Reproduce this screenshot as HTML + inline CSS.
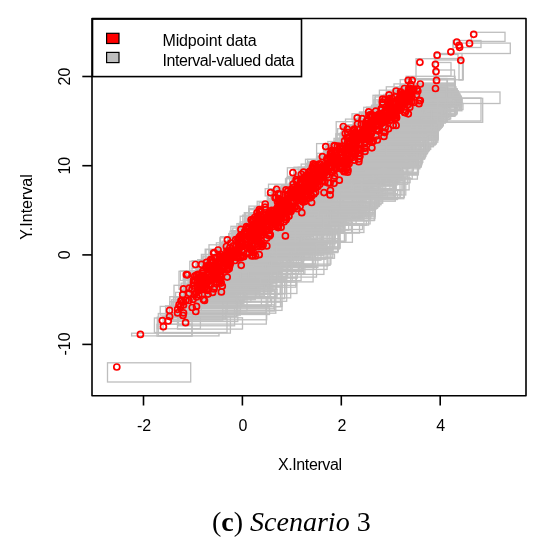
<!DOCTYPE html>
<html><head><meta charset="utf-8"><style>
html,body{margin:0;padding:0;background:#fff;}
body{width:550px;height:547px;overflow:hidden;}
svg{display:block;filter:blur(0.35px);}
.t{font-family:"Liberation Sans",Arial,sans-serif;font-size:16px;fill:#000;}
.cap{font-family:"Liberation Serif","Times New Roman",serif;font-size:28px;fill:#000;}
</style></head><body>
<svg width="550" height="547" viewBox="0 0 550 547">
<rect x="0" y="0" width="550" height="547" fill="#fff"/>
<g fill="none" stroke="#bebebe" stroke-width="1.3">
<rect x="245.3" y="224.7" width="94.6" height="23.2"/>
<rect x="401.7" y="85.0" width="33.4" height="5.3"/>
<rect x="351.1" y="137.9" width="74.4" height="19.1"/>
<rect x="396.2" y="88.3" width="34.1" height="11.5"/>
<rect x="321.3" y="153.8" width="23.8" height="12.7"/>
<rect x="345.5" y="135.6" width="28.4" height="8.5"/>
<rect x="245.1" y="231.4" width="65.0" height="21.5"/>
<rect x="303.4" y="168.1" width="57.6" height="19.6"/>
<rect x="271.8" y="212.8" width="60.9" height="7.6"/>
<rect x="335.9" y="166.0" width="36.3" height="8.4"/>
<rect x="290.6" y="185.5" width="103.7" height="14.3"/>
<rect x="306.3" y="182.7" width="59.9" height="19.9"/>
<rect x="185.4" y="291.4" width="58.6" height="9.3"/>
<rect x="278.5" y="189.0" width="48.3" height="6.1"/>
<rect x="302.5" y="197.8" width="77.1" height="8.2"/>
<rect x="356.3" y="128.2" width="81.7" height="5.8"/>
<rect x="313.4" y="167.7" width="79.7" height="11.0"/>
<rect x="224.9" y="246.6" width="53.1" height="5.8"/>
<rect x="321.9" y="166.1" width="27.4" height="14.6"/>
<rect x="380.1" y="116.6" width="66.3" height="5.4"/>
<rect x="295.8" y="186.2" width="97.7" height="9.7"/>
<rect x="371.6" y="117.7" width="71.1" height="8.2"/>
<rect x="299.1" y="173.3" width="90.7" height="9.6"/>
<rect x="199.4" y="285.4" width="81.1" height="21.3"/>
<rect x="399.2" y="95.5" width="61.4" height="10.7"/>
<rect x="192.0" y="268.4" width="76.3" height="15.5"/>
<rect x="245.8" y="229.6" width="25.9" height="5.8"/>
<rect x="329.7" y="161.6" width="46.6" height="15.2"/>
<rect x="363.5" y="128.5" width="71.8" height="16.2"/>
<rect x="227.8" y="238.5" width="61.9" height="19.0"/>
<rect x="372.3" y="113.1" width="65.7" height="21.3"/>
<rect x="339.8" y="133.3" width="35.3" height="23.5"/>
<rect x="269.9" y="208.8" width="51.1" height="12.7"/>
<rect x="283.5" y="203.7" width="41.1" height="9.4"/>
<rect x="382.6" y="125.4" width="53.0" height="19.0"/>
<rect x="283.8" y="186.2" width="44.6" height="9.7"/>
<rect x="377.2" y="118.2" width="57.9" height="20.6"/>
<rect x="232.4" y="245.7" width="80.0" height="19.3"/>
<rect x="373.0" y="95.3" width="87.2" height="9.5"/>
<rect x="338.2" y="159.2" width="64.3" height="19.3"/>
<rect x="190.3" y="291.2" width="85.5" height="22.0"/>
<rect x="203.9" y="270.1" width="74.5" height="9.9"/>
<rect x="346.2" y="142.0" width="74.6" height="13.7"/>
<rect x="370.0" y="118.5" width="72.8" height="7.3"/>
<rect x="265.0" y="214.1" width="48.3" height="7.7"/>
<rect x="241.4" y="232.7" width="39.6" height="12.6"/>
<rect x="294.0" y="190.3" width="81.9" height="18.9"/>
<rect x="371.2" y="109.7" width="66.2" height="11.9"/>
<rect x="406.1" y="76.3" width="48.9" height="7.8"/>
<rect x="342.4" y="127.7" width="29.0" height="8.4"/>
<rect x="294.6" y="193.6" width="102.8" height="5.9"/>
<rect x="208.1" y="282.2" width="88.8" height="11.3"/>
<rect x="327.3" y="162.2" width="34.4" height="6.8"/>
<rect x="274.6" y="204.0" width="84.8" height="7.8"/>
<rect x="205.1" y="259.8" width="59.2" height="20.0"/>
<rect x="228.7" y="243.6" width="68.2" height="6.3"/>
<rect x="384.9" y="101.6" width="56.5" height="9.4"/>
<rect x="288.6" y="191.4" width="86.4" height="19.0"/>
<rect x="396.8" y="97.2" width="59.6" height="17.5"/>
<rect x="379.9" y="97.0" width="34.8" height="17.7"/>
<rect x="303.0" y="186.7" width="40.0" height="12.8"/>
<rect x="304.7" y="181.5" width="87.6" height="7.0"/>
<rect x="310.2" y="178.5" width="94.2" height="19.0"/>
<rect x="355.9" y="132.7" width="52.9" height="19.8"/>
<rect x="225.4" y="242.8" width="36.8" height="6.9"/>
<rect x="281.9" y="208.8" width="93.1" height="7.4"/>
<rect x="275.1" y="205.5" width="60.9" height="12.3"/>
<rect x="331.8" y="157.8" width="89.0" height="9.2"/>
<rect x="202.0" y="272.3" width="23.0" height="12.7"/>
<rect x="325.6" y="146.0" width="64.3" height="6.3"/>
<rect x="201.6" y="263.7" width="45.3" height="16.0"/>
<rect x="301.2" y="164.1" width="74.8" height="15.4"/>
<rect x="234.8" y="231.3" width="65.9" height="6.8"/>
<rect x="400.5" y="91.3" width="34.1" height="13.4"/>
<rect x="214.6" y="254.3" width="68.4" height="11.4"/>
<rect x="335.8" y="167.1" width="47.6" height="6.8"/>
<rect x="228.7" y="233.7" width="38.1" height="16.3"/>
<rect x="238.2" y="230.9" width="95.0" height="19.2"/>
<rect x="334.3" y="154.7" width="37.7" height="4.4"/>
<rect x="201.4" y="290.4" width="42.5" height="13.5"/>
<rect x="320.5" y="163.1" width="87.2" height="21.1"/>
<rect x="297.8" y="186.9" width="64.8" height="7.2"/>
<rect x="192.3" y="274.3" width="80.5" height="17.3"/>
<rect x="393.3" y="90.8" width="50.7" height="20.3"/>
<rect x="335.2" y="139.2" width="58.8" height="16.8"/>
<rect x="198.6" y="282.5" width="83.4" height="24.1"/>
<rect x="306.7" y="175.0" width="64.0" height="7.4"/>
<rect x="266.3" y="207.3" width="47.9" height="6.2"/>
<rect x="210.6" y="265.4" width="51.6" height="4.5"/>
<rect x="314.6" y="179.4" width="47.9" height="18.2"/>
<rect x="338.2" y="159.8" width="39.3" height="6.2"/>
<rect x="337.2" y="145.9" width="74.4" height="5.1"/>
<rect x="282.2" y="187.7" width="29.0" height="8.5"/>
<rect x="279.5" y="198.0" width="81.4" height="19.7"/>
<rect x="190.6" y="271.5" width="96.3" height="5.4"/>
<rect x="234.9" y="240.8" width="35.1" height="9.1"/>
<rect x="312.9" y="174.4" width="87.1" height="7.8"/>
<rect x="226.7" y="251.6" width="33.0" height="8.2"/>
<rect x="212.6" y="255.9" width="33.9" height="7.1"/>
<rect x="289.8" y="189.4" width="90.5" height="7.9"/>
<rect x="361.1" y="120.9" width="66.9" height="14.8"/>
<rect x="401.3" y="91.7" width="57.2" height="15.0"/>
<rect x="193.2" y="283.1" width="33.0" height="15.8"/>
<rect x="343.7" y="142.6" width="52.1" height="17.6"/>
<rect x="354.9" y="123.9" width="31.0" height="11.5"/>
<rect x="302.1" y="172.6" width="47.8" height="6.2"/>
<rect x="239.6" y="224.7" width="76.6" height="19.9"/>
<rect x="291.8" y="191.2" width="26.4" height="4.8"/>
<rect x="344.6" y="133.6" width="75.9" height="20.4"/>
<rect x="285.5" y="178.8" width="87.1" height="16.1"/>
<rect x="254.4" y="216.2" width="68.4" height="10.0"/>
<rect x="375.3" y="118.8" width="61.2" height="13.1"/>
<rect x="380.3" y="99.9" width="28.7" height="8.0"/>
<rect x="295.9" y="173.0" width="71.6" height="5.4"/>
<rect x="327.7" y="159.5" width="61.6" height="10.8"/>
<rect x="221.3" y="274.3" width="64.7" height="19.5"/>
<rect x="233.3" y="246.9" width="34.6" height="9.2"/>
<rect x="398.0" y="87.4" width="35.2" height="6.2"/>
<rect x="193.2" y="278.3" width="29.0" height="10.9"/>
<rect x="327.4" y="162.1" width="74.1" height="7.9"/>
<rect x="242.7" y="244.8" width="64.7" height="9.7"/>
<rect x="303.1" y="194.9" width="79.6" height="8.3"/>
<rect x="232.8" y="228.0" width="35.9" height="9.3"/>
<rect x="202.2" y="263.9" width="96.8" height="6.1"/>
<rect x="371.7" y="113.2" width="36.4" height="9.7"/>
<rect x="322.7" y="160.6" width="32.9" height="6.0"/>
<rect x="377.6" y="116.1" width="24.6" height="6.4"/>
<rect x="320.3" y="161.6" width="97.1" height="17.5"/>
<rect x="242.2" y="230.3" width="38.8" height="20.8"/>
<rect x="210.7" y="276.5" width="49.0" height="20.1"/>
<rect x="275.0" y="205.6" width="59.3" height="14.6"/>
<rect x="203.0" y="256.8" width="70.0" height="18.1"/>
<rect x="269.1" y="208.8" width="59.1" height="10.9"/>
<rect x="193.4" y="277.6" width="27.0" height="3.8"/>
<rect x="202.9" y="264.2" width="73.8" height="19.0"/>
<rect x="247.7" y="247.4" width="82.4" height="17.9"/>
<rect x="196.3" y="278.6" width="66.0" height="8.1"/>
<rect x="256.3" y="206.5" width="91.7" height="6.4"/>
<rect x="319.5" y="165.8" width="57.6" height="6.6"/>
<rect x="388.2" y="107.2" width="52.0" height="22.0"/>
<rect x="224.2" y="246.5" width="45.7" height="14.1"/>
<rect x="370.5" y="124.5" width="67.5" height="9.2"/>
<rect x="288.2" y="184.7" width="78.4" height="8.8"/>
<rect x="216.2" y="263.4" width="45.0" height="12.6"/>
<rect x="343.7" y="131.8" width="85.0" height="19.4"/>
<rect x="386.3" y="96.4" width="74.8" height="5.5"/>
<rect x="280.3" y="208.7" width="59.0" height="11.6"/>
<rect x="316.9" y="153.3" width="59.9" height="6.6"/>
<rect x="254.3" y="242.8" width="75.8" height="6.1"/>
<rect x="219.8" y="251.2" width="101.2" height="9.0"/>
<rect x="374.9" y="96.9" width="82.0" height="17.6"/>
<rect x="331.1" y="142.1" width="64.3" height="21.5"/>
<rect x="253.9" y="214.7" width="58.9" height="6.2"/>
<rect x="192.1" y="260.7" width="90.8" height="7.7"/>
<rect x="270.8" y="222.2" width="31.7" height="6.3"/>
<rect x="321.2" y="186.1" width="58.0" height="5.3"/>
<rect x="306.9" y="163.3" width="61.7" height="16.0"/>
<rect x="242.3" y="234.8" width="79.1" height="13.9"/>
<rect x="173.1" y="312.8" width="93.6" height="7.0"/>
<rect x="255.6" y="213.8" width="94.8" height="6.8"/>
<rect x="203.3" y="276.5" width="41.3" height="20.4"/>
<rect x="326.5" y="165.6" width="30.1" height="7.7"/>
<rect x="259.1" y="202.3" width="84.7" height="7.6"/>
<rect x="305.5" y="180.7" width="29.0" height="8.1"/>
<rect x="364.6" y="135.3" width="62.1" height="19.3"/>
<rect x="276.7" y="205.3" width="92.5" height="9.5"/>
<rect x="356.2" y="136.0" width="77.4" height="10.4"/>
<rect x="303.7" y="190.2" width="71.3" height="22.2"/>
<rect x="384.4" y="115.6" width="31.4" height="18.2"/>
<rect x="235.8" y="240.1" width="91.8" height="4.5"/>
<rect x="248.9" y="206.1" width="45.5" height="12.7"/>
<rect x="290.0" y="186.4" width="80.1" height="6.6"/>
<rect x="286.0" y="189.2" width="41.3" height="12.9"/>
<rect x="299.7" y="179.5" width="80.6" height="6.0"/>
<rect x="273.2" y="209.0" width="22.3" height="18.8"/>
<rect x="345.6" y="132.8" width="32.6" height="13.6"/>
<rect x="257.0" y="218.1" width="32.6" height="5.0"/>
<rect x="203.0" y="254.7" width="77.0" height="15.3"/>
<rect x="326.8" y="178.7" width="51.8" height="24.2"/>
<rect x="353.0" y="128.5" width="83.2" height="15.4"/>
<rect x="350.9" y="130.3" width="32.1" height="11.4"/>
<rect x="239.2" y="248.6" width="47.5" height="16.8"/>
<rect x="243.3" y="231.8" width="91.4" height="15.5"/>
<rect x="379.0" y="114.7" width="59.9" height="16.1"/>
<rect x="194.0" y="294.8" width="29.1" height="11.4"/>
<rect x="212.9" y="254.7" width="90.7" height="19.7"/>
<rect x="318.6" y="164.8" width="83.7" height="13.6"/>
<rect x="237.0" y="242.4" width="57.9" height="13.9"/>
<rect x="296.9" y="189.8" width="103.3" height="8.4"/>
<rect x="301.5" y="170.3" width="101.8" height="6.3"/>
<rect x="269.0" y="198.7" width="91.6" height="14.2"/>
<rect x="361.4" y="113.3" width="75.1" height="7.0"/>
<rect x="227.0" y="254.5" width="74.4" height="16.3"/>
<rect x="351.3" y="132.9" width="39.8" height="13.4"/>
<rect x="272.6" y="198.1" width="45.8" height="21.2"/>
<rect x="384.6" y="110.6" width="45.9" height="11.4"/>
<rect x="216.9" y="265.6" width="29.4" height="4.9"/>
<rect x="232.7" y="232.6" width="39.3" height="4.7"/>
<rect x="257.2" y="201.3" width="64.3" height="6.7"/>
<rect x="229.0" y="233.5" width="37.6" height="8.3"/>
<rect x="391.7" y="105.5" width="47.6" height="5.6"/>
<rect x="266.7" y="211.4" width="74.7" height="13.2"/>
<rect x="235.7" y="234.6" width="30.8" height="10.8"/>
<rect x="340.7" y="150.3" width="40.2" height="22.0"/>
<rect x="355.3" y="126.4" width="26.6" height="12.5"/>
<rect x="302.5" y="176.0" width="80.2" height="5.9"/>
<rect x="245.7" y="220.1" width="37.7" height="15.8"/>
<rect x="395.1" y="89.7" width="26.1" height="7.4"/>
<rect x="394.9" y="97.9" width="40.1" height="16.4"/>
<rect x="276.4" y="208.1" width="86.7" height="10.1"/>
<rect x="227.5" y="244.9" width="41.3" height="5.3"/>
<rect x="249.0" y="208.6" width="51.7" height="10.3"/>
<rect x="312.7" y="177.2" width="91.1" height="21.5"/>
<rect x="289.8" y="201.8" width="75.8" height="14.9"/>
<rect x="191.8" y="272.9" width="29.7" height="7.4"/>
<rect x="255.9" y="220.6" width="87.5" height="12.7"/>
<rect x="311.6" y="168.6" width="85.4" height="6.8"/>
<rect x="363.0" y="121.1" width="51.6" height="15.0"/>
<rect x="228.8" y="245.4" width="89.1" height="22.0"/>
<rect x="295.1" y="194.7" width="68.0" height="12.2"/>
<rect x="276.5" y="207.0" width="98.5" height="11.2"/>
<rect x="249.3" y="209.7" width="72.6" height="16.7"/>
<rect x="368.4" y="118.4" width="44.5" height="4.2"/>
<rect x="281.0" y="193.5" width="71.3" height="12.7"/>
<rect x="233.3" y="231.2" width="29.2" height="9.4"/>
<rect x="265.2" y="188.7" width="85.4" height="7.2"/>
<rect x="218.4" y="259.5" width="68.2" height="18.6"/>
<rect x="319.3" y="167.9" width="29.2" height="13.9"/>
<rect x="317.9" y="170.9" width="28.5" height="16.8"/>
<rect x="351.8" y="129.9" width="86.2" height="5.5"/>
<rect x="233.2" y="254.9" width="22.3" height="5.8"/>
<rect x="253.5" y="242.5" width="84.8" height="4.3"/>
<rect x="220.1" y="266.6" width="96.4" height="10.5"/>
<rect x="255.0" y="227.1" width="41.0" height="14.2"/>
<rect x="358.5" y="145.6" width="52.5" height="4.5"/>
<rect x="308.2" y="176.3" width="62.0" height="12.5"/>
<rect x="388.1" y="107.9" width="54.9" height="17.7"/>
<rect x="272.5" y="193.8" width="67.6" height="9.2"/>
<rect x="248.9" y="218.0" width="66.2" height="16.7"/>
<rect x="218.4" y="262.4" width="33.1" height="22.6"/>
<rect x="293.7" y="190.6" width="63.8" height="7.5"/>
<rect x="206.4" y="269.0" width="62.9" height="6.7"/>
<rect x="338.5" y="145.6" width="85.0" height="5.7"/>
<rect x="254.3" y="206.9" width="84.8" height="7.4"/>
<rect x="289.1" y="183.1" width="75.7" height="13.3"/>
<rect x="256.7" y="226.4" width="87.7" height="15.5"/>
<rect x="267.3" y="195.0" width="64.3" height="6.0"/>
<rect x="367.1" y="122.6" width="74.4" height="4.9"/>
<rect x="274.1" y="196.6" width="88.7" height="12.3"/>
<rect x="378.5" y="108.8" width="62.0" height="19.9"/>
<rect x="206.2" y="258.2" width="53.6" height="11.6"/>
<rect x="211.0" y="272.7" width="27.4" height="12.4"/>
<rect x="228.8" y="246.7" width="30.8" height="9.3"/>
<rect x="246.5" y="223.9" width="28.4" height="16.2"/>
<rect x="402.1" y="110.0" width="37.6" height="19.8"/>
<rect x="216.6" y="248.7" width="36.0" height="10.9"/>
<rect x="305.5" y="177.7" width="90.8" height="11.8"/>
<rect x="315.6" y="172.6" width="79.6" height="20.1"/>
<rect x="225.0" y="248.1" width="79.3" height="12.4"/>
<rect x="341.6" y="143.4" width="46.5" height="7.5"/>
<rect x="244.9" y="217.9" width="32.3" height="8.1"/>
<rect x="238.7" y="231.0" width="84.0" height="19.8"/>
<rect x="238.2" y="229.8" width="33.1" height="22.0"/>
<rect x="323.9" y="150.7" width="36.3" height="8.3"/>
<rect x="191.7" y="283.7" width="33.9" height="11.7"/>
<rect x="365.2" y="112.2" width="68.3" height="21.2"/>
<rect x="361.0" y="135.2" width="39.3" height="19.4"/>
<rect x="307.1" y="185.0" width="88.2" height="16.2"/>
<rect x="338.0" y="144.1" width="74.9" height="7.9"/>
<rect x="334.3" y="145.7" width="91.6" height="10.6"/>
<rect x="265.3" y="213.7" width="55.0" height="14.5"/>
<rect x="202.6" y="263.5" width="60.6" height="19.9"/>
<rect x="271.4" y="203.0" width="32.5" height="6.9"/>
<rect x="214.3" y="272.4" width="65.9" height="21.3"/>
<rect x="391.9" y="98.0" width="33.0" height="5.7"/>
<rect x="274.4" y="212.9" width="88.6" height="6.2"/>
<rect x="362.5" y="129.4" width="60.8" height="22.5"/>
<rect x="314.9" y="163.4" width="79.1" height="13.7"/>
<rect x="267.3" y="205.6" width="69.8" height="7.2"/>
<rect x="337.6" y="155.4" width="63.0" height="14.1"/>
<rect x="265.3" y="208.1" width="47.0" height="12.7"/>
<rect x="269.0" y="219.3" width="28.0" height="12.0"/>
<rect x="316.6" y="143.6" width="69.8" height="20.5"/>
<rect x="366.2" y="117.0" width="71.7" height="11.1"/>
<rect x="294.0" y="167.2" width="90.0" height="24.1"/>
<rect x="294.2" y="187.8" width="28.1" height="15.7"/>
<rect x="285.3" y="193.3" width="52.2" height="8.2"/>
<rect x="274.0" y="212.4" width="72.4" height="10.8"/>
<rect x="383.3" y="98.2" width="72.2" height="17.2"/>
<rect x="388.7" y="114.1" width="40.8" height="20.1"/>
<rect x="350.5" y="147.9" width="39.8" height="8.3"/>
<rect x="196.5" y="272.9" width="51.7" height="15.2"/>
<rect x="268.1" y="221.2" width="29.5" height="21.3"/>
<rect x="336.0" y="158.6" width="26.5" height="6.7"/>
<rect x="307.9" y="165.1" width="41.2" height="20.3"/>
<rect x="245.8" y="229.8" width="71.8" height="12.6"/>
<rect x="326.3" y="156.4" width="57.4" height="20.1"/>
<rect x="373.1" y="117.2" width="41.1" height="12.1"/>
<rect x="248.5" y="223.6" width="45.5" height="17.3"/>
<rect x="288.3" y="202.2" width="35.5" height="23.0"/>
<rect x="242.3" y="231.6" width="67.4" height="21.8"/>
<rect x="265.8" y="214.4" width="98.1" height="18.1"/>
<rect x="216.0" y="253.8" width="61.5" height="18.0"/>
<rect x="359.2" y="121.2" width="65.4" height="7.2"/>
<rect x="337.6" y="128.7" width="85.0" height="6.3"/>
<rect x="228.5" y="249.9" width="99.4" height="16.0"/>
<rect x="350.7" y="132.3" width="43.5" height="19.4"/>
<rect x="204.0" y="272.2" width="64.6" height="9.4"/>
<rect x="278.2" y="197.7" width="96.8" height="12.4"/>
<rect x="364.3" y="117.8" width="79.0" height="7.4"/>
<rect x="239.5" y="223.4" width="95.5" height="20.4"/>
<rect x="321.0" y="163.9" width="40.4" height="17.9"/>
<rect x="293.9" y="169.2" width="41.4" height="13.3"/>
<rect x="270.5" y="196.5" width="73.0" height="20.2"/>
<rect x="275.8" y="202.0" width="53.1" height="11.3"/>
<rect x="405.3" y="89.0" width="51.8" height="22.6"/>
<rect x="285.6" y="189.4" width="36.9" height="14.4"/>
<rect x="219.8" y="237.8" width="82.8" height="13.5"/>
<rect x="184.8" y="277.5" width="68.8" height="6.9"/>
<rect x="298.2" y="167.2" width="36.9" height="5.3"/>
<rect x="244.1" y="240.8" width="81.9" height="18.5"/>
<rect x="239.9" y="234.2" width="73.6" height="17.6"/>
<rect x="271.9" y="206.4" width="97.0" height="14.5"/>
<rect x="202.2" y="275.1" width="23.3" height="6.1"/>
<rect x="234.8" y="250.5" width="51.4" height="8.6"/>
<rect x="209.1" y="250.6" width="47.9" height="5.9"/>
<rect x="279.7" y="201.5" width="58.3" height="5.8"/>
<rect x="294.8" y="173.2" width="46.7" height="9.7"/>
<rect x="248.5" y="214.3" width="46.1" height="8.0"/>
<rect x="352.7" y="128.1" width="25.9" height="22.7"/>
<rect x="356.7" y="122.5" width="46.2" height="20.9"/>
<rect x="258.1" y="223.8" width="101.4" height="9.3"/>
<rect x="311.6" y="170.2" width="70.7" height="22.5"/>
<rect x="325.5" y="146.6" width="79.8" height="14.4"/>
<rect x="391.3" y="95.2" width="45.9" height="14.4"/>
<rect x="398.6" y="90.7" width="59.5" height="7.6"/>
<rect x="347.8" y="148.3" width="28.7" height="21.0"/>
<rect x="221.5" y="266.2" width="91.6" height="15.7"/>
<rect x="318.0" y="189.2" width="60.8" height="17.4"/>
<rect x="201.4" y="254.4" width="101.0" height="17.1"/>
<rect x="278.5" y="195.8" width="98.3" height="12.7"/>
<rect x="351.5" y="151.2" width="58.4" height="17.3"/>
<rect x="364.7" y="125.0" width="73.3" height="9.0"/>
<rect x="260.3" y="217.3" width="52.3" height="19.2"/>
<rect x="244.2" y="228.7" width="50.1" height="11.0"/>
<rect x="344.9" y="140.4" width="51.9" height="15.3"/>
<rect x="383.6" y="121.7" width="40.7" height="22.2"/>
<rect x="366.1" y="111.0" width="35.6" height="12.8"/>
<rect x="333.4" y="169.2" width="53.2" height="8.4"/>
<rect x="291.1" y="186.9" width="68.0" height="14.5"/>
<rect x="256.0" y="240.3" width="81.7" height="12.3"/>
<rect x="348.4" y="131.2" width="69.1" height="4.9"/>
<rect x="326.2" y="154.5" width="50.4" height="8.7"/>
<rect x="335.9" y="133.8" width="79.5" height="17.4"/>
<rect x="293.7" y="183.3" width="49.3" height="21.5"/>
<rect x="402.7" y="95.6" width="57.9" height="12.3"/>
<rect x="250.5" y="229.4" width="44.9" height="11.6"/>
<rect x="398.5" y="97.2" width="33.5" height="16.7"/>
<rect x="363.9" y="120.6" width="74.1" height="14.8"/>
<rect x="305.8" y="181.7" width="27.8" height="10.3"/>
<rect x="219.5" y="258.8" width="67.2" height="23.0"/>
<rect x="253.7" y="251.2" width="73.4" height="18.2"/>
<rect x="395.2" y="92.7" width="29.8" height="7.8"/>
<rect x="184.6" y="294.8" width="55.8" height="15.8"/>
<rect x="261.5" y="231.4" width="24.5" height="8.7"/>
<rect x="261.0" y="232.1" width="45.7" height="17.8"/>
<rect x="358.5" y="128.8" width="57.1" height="21.2"/>
<rect x="313.5" y="168.1" width="70.0" height="6.3"/>
<rect x="239.4" y="239.7" width="76.2" height="11.4"/>
<rect x="384.1" y="114.0" width="27.1" height="6.6"/>
<rect x="350.6" y="130.2" width="30.2" height="13.2"/>
<rect x="242.8" y="229.9" width="45.0" height="17.0"/>
<rect x="357.0" y="140.1" width="25.1" height="18.5"/>
<rect x="390.4" y="113.0" width="43.8" height="3.9"/>
<rect x="401.5" y="96.5" width="53.1" height="19.6"/>
<rect x="396.8" y="87.6" width="51.1" height="18.5"/>
<rect x="304.8" y="183.6" width="39.1" height="6.2"/>
<rect x="211.5" y="263.7" width="39.3" height="11.7"/>
<rect x="295.7" y="172.9" width="78.1" height="20.0"/>
<rect x="216.9" y="258.0" width="49.9" height="6.0"/>
<rect x="301.4" y="173.2" width="64.8" height="5.9"/>
<rect x="202.5" y="264.3" width="96.2" height="5.5"/>
<rect x="340.4" y="144.0" width="51.9" height="17.7"/>
<rect x="197.7" y="259.8" width="76.2" height="9.7"/>
<rect x="245.4" y="229.3" width="89.6" height="11.9"/>
<rect x="373.7" y="120.3" width="68.0" height="7.0"/>
<rect x="203.9" y="263.9" width="94.4" height="5.9"/>
<rect x="227.7" y="240.4" width="83.9" height="14.0"/>
<rect x="265.6" y="209.0" width="61.2" height="5.5"/>
<rect x="263.1" y="225.8" width="56.8" height="21.8"/>
<rect x="360.1" y="143.3" width="33.0" height="6.5"/>
<rect x="201.8" y="262.8" width="59.6" height="21.8"/>
<rect x="274.9" y="184.9" width="36.2" height="23.5"/>
<rect x="280.9" y="208.8" width="46.9" height="20.8"/>
<rect x="358.0" y="116.5" width="46.2" height="12.1"/>
<rect x="383.3" y="98.6" width="73.8" height="6.0"/>
<rect x="193.6" y="286.3" width="35.8" height="14.6"/>
<rect x="406.2" y="88.7" width="50.8" height="15.9"/>
<rect x="329.5" y="144.3" width="25.8" height="21.4"/>
<rect x="385.2" y="112.9" width="44.8" height="15.4"/>
<rect x="400.2" y="79.6" width="47.2" height="7.6"/>
<rect x="282.1" y="211.9" width="88.7" height="6.6"/>
<rect x="296.4" y="174.0" width="27.3" height="21.2"/>
<rect x="286.0" y="193.1" width="28.5" height="19.2"/>
<rect x="406.1" y="88.0" width="47.8" height="12.0"/>
<rect x="296.5" y="198.4" width="55.7" height="5.5"/>
<rect x="334.9" y="143.9" width="39.9" height="9.7"/>
<rect x="277.0" y="189.7" width="85.8" height="22.7"/>
<rect x="345.4" y="149.3" width="35.5" height="12.0"/>
<rect x="340.6" y="160.6" width="77.9" height="11.7"/>
<rect x="346.8" y="141.0" width="67.9" height="5.2"/>
<rect x="309.8" y="173.5" width="52.6" height="4.6"/>
<rect x="275.5" y="214.9" width="62.7" height="15.3"/>
<rect x="257.4" y="222.1" width="69.9" height="14.9"/>
<rect x="300.7" y="182.1" width="46.1" height="6.0"/>
<rect x="305.5" y="159.3" width="27.3" height="10.9"/>
<rect x="320.3" y="154.8" width="55.9" height="9.6"/>
<rect x="193.9" y="281.8" width="65.3" height="8.8"/>
<rect x="205.5" y="265.8" width="40.3" height="12.1"/>
<rect x="282.8" y="186.1" width="52.4" height="11.5"/>
<rect x="344.4" y="130.6" width="33.9" height="23.1"/>
<rect x="214.0" y="270.1" width="81.9" height="17.1"/>
<rect x="353.1" y="121.4" width="42.3" height="12.0"/>
<rect x="390.0" y="93.7" width="69.7" height="8.3"/>
<rect x="274.7" y="219.1" width="42.4" height="5.5"/>
<rect x="304.6" y="179.5" width="50.2" height="14.9"/>
<rect x="217.2" y="252.5" width="26.6" height="7.3"/>
<rect x="356.6" y="127.8" width="61.6" height="14.0"/>
<rect x="315.9" y="173.0" width="51.1" height="22.2"/>
<rect x="387.1" y="94.2" width="72.9" height="15.1"/>
<rect x="301.9" y="192.4" width="73.1" height="22.4"/>
<rect x="231.7" y="232.3" width="56.5" height="22.5"/>
<rect x="213.4" y="261.1" width="34.4" height="5.3"/>
<rect x="191.5" y="288.4" width="66.9" height="3.3"/>
<rect x="381.2" y="104.2" width="33.1" height="12.8"/>
<rect x="388.2" y="114.4" width="49.8" height="19.0"/>
<rect x="295.9" y="184.3" width="48.5" height="5.7"/>
<rect x="231.0" y="244.4" width="59.5" height="20.0"/>
<rect x="247.6" y="242.0" width="68.0" height="22.0"/>
<rect x="375.7" y="107.9" width="45.7" height="6.8"/>
<rect x="257.5" y="216.7" width="86.8" height="5.3"/>
<rect x="284.2" y="206.6" width="84.4" height="18.5"/>
<rect x="270.4" y="198.2" width="64.0" height="17.7"/>
<rect x="385.2" y="108.5" width="62.2" height="5.4"/>
<rect x="313.1" y="177.7" width="92.7" height="17.3"/>
<rect x="377.2" y="110.2" width="69.1" height="11.9"/>
<rect x="292.9" y="194.1" width="79.9" height="21.0"/>
<rect x="234.3" y="240.5" width="89.5" height="14.8"/>
<rect x="274.5" y="211.5" width="92.4" height="6.9"/>
<rect x="337.2" y="134.1" width="42.9" height="15.4"/>
<rect x="240.2" y="221.9" width="82.3" height="6.3"/>
<rect x="335.3" y="168.6" width="33.0" height="4.8"/>
<rect x="267.6" y="212.2" width="75.6" height="19.4"/>
<rect x="395.8" y="106.6" width="53.3" height="5.0"/>
<rect x="371.7" y="105.2" width="64.1" height="13.5"/>
<rect x="396.1" y="96.4" width="33.9" height="20.8"/>
<rect x="390.0" y="103.7" width="51.9" height="23.3"/>
<rect x="353.5" y="156.6" width="59.9" height="14.5"/>
<rect x="237.5" y="248.8" width="77.2" height="8.0"/>
<rect x="388.1" y="98.5" width="23.5" height="12.1"/>
<rect x="209.9" y="274.3" width="57.6" height="6.5"/>
<rect x="377.4" y="116.6" width="63.8" height="11.2"/>
<rect x="327.6" y="159.5" width="75.7" height="5.6"/>
<rect x="373.3" y="129.3" width="64.7" height="7.6"/>
<rect x="228.0" y="249.5" width="70.7" height="24.3"/>
<rect x="244.1" y="230.4" width="28.0" height="7.7"/>
<rect x="206.0" y="249.6" width="78.8" height="8.9"/>
<rect x="187.1" y="289.5" width="90.0" height="7.7"/>
<rect x="242.8" y="215.1" width="55.3" height="11.8"/>
<rect x="286.1" y="205.2" width="53.8" height="4.7"/>
<rect x="240.2" y="216.2" width="87.9" height="10.9"/>
<rect x="215.1" y="252.0" width="35.4" height="9.6"/>
<rect x="205.9" y="279.7" width="78.7" height="19.0"/>
<rect x="373.6" y="113.5" width="28.5" height="6.8"/>
<rect x="195.4" y="273.5" width="63.7" height="19.7"/>
<rect x="350.5" y="141.8" width="41.8" height="4.9"/>
<rect x="248.9" y="208.5" width="66.3" height="8.8"/>
<rect x="320.6" y="168.3" width="76.3" height="15.7"/>
<rect x="392.7" y="98.4" width="67.5" height="6.4"/>
<rect x="259.7" y="222.7" width="71.6" height="10.1"/>
<rect x="319.7" y="155.0" width="23.1" height="13.7"/>
<rect x="367.3" y="118.5" width="70.7" height="15.5"/>
<rect x="230.9" y="226.3" width="94.3" height="4.4"/>
<rect x="322.7" y="180.4" width="80.3" height="10.1"/>
<rect x="282.9" y="191.4" width="33.9" height="13.8"/>
<rect x="341.7" y="126.2" width="70.6" height="6.7"/>
<rect x="358.0" y="123.1" width="68.3" height="10.0"/>
<rect x="323.7" y="143.7" width="35.0" height="21.5"/>
<rect x="244.3" y="212.7" width="67.1" height="24.3"/>
<rect x="344.4" y="134.9" width="45.4" height="22.6"/>
<rect x="266.2" y="206.4" width="39.8" height="6.6"/>
<rect x="259.1" y="208.2" width="85.7" height="19.7"/>
<rect x="302.7" y="190.4" width="84.6" height="7.1"/>
<rect x="195.3" y="271.8" width="27.9" height="5.3"/>
<rect x="357.6" y="136.9" width="70.8" height="14.6"/>
<rect x="321.9" y="154.0" width="33.6" height="21.2"/>
<rect x="342.4" y="143.6" width="88.3" height="5.8"/>
<rect x="354.0" y="115.5" width="69.9" height="10.0"/>
<rect x="376.8" y="108.0" width="46.1" height="7.3"/>
<rect x="371.4" y="106.1" width="73.9" height="16.7"/>
<rect x="247.5" y="241.6" width="48.4" height="19.3"/>
<rect x="305.9" y="171.0" width="61.4" height="18.5"/>
<rect x="300.4" y="171.1" width="82.2" height="7.9"/>
<rect x="342.7" y="148.9" width="82.3" height="9.2"/>
<rect x="365.3" y="138.7" width="28.2" height="3.5"/>
<rect x="266.1" y="210.0" width="52.6" height="5.7"/>
<rect x="324.7" y="151.3" width="72.4" height="17.2"/>
<rect x="316.6" y="167.2" width="35.3" height="7.9"/>
<rect x="306.5" y="179.8" width="39.9" height="14.5"/>
<rect x="379.0" y="99.7" width="44.6" height="13.1"/>
<rect x="308.8" y="162.5" width="87.8" height="5.0"/>
<rect x="213.1" y="289.0" width="50.4" height="5.8"/>
<rect x="238.2" y="230.4" width="54.6" height="17.9"/>
<rect x="194.7" y="283.5" width="75.8" height="18.2"/>
<rect x="248.0" y="222.3" width="100.7" height="7.8"/>
<rect x="216.4" y="242.8" width="86.8" height="14.7"/>
<rect x="306.8" y="179.2" width="83.1" height="10.8"/>
<rect x="350.1" y="130.1" width="65.5" height="8.5"/>
<rect x="246.9" y="225.3" width="92.1" height="17.6"/>
<rect x="304.4" y="186.8" width="73.1" height="9.6"/>
<rect x="245.8" y="232.9" width="92.1" height="19.1"/>
<rect x="190.2" y="284.5" width="80.9" height="8.6"/>
<rect x="268.5" y="184.2" width="93.6" height="24.1"/>
<rect x="330.4" y="155.3" width="66.0" height="21.1"/>
<rect x="309.8" y="167.6" width="28.7" height="22.6"/>
<rect x="310.7" y="164.4" width="45.1" height="10.4"/>
<rect x="274.4" y="195.6" width="100.6" height="17.7"/>
<rect x="210.4" y="267.1" width="54.4" height="9.5"/>
<rect x="394.7" y="89.4" width="62.6" height="23.9"/>
<rect x="217.5" y="251.1" width="56.6" height="22.5"/>
<rect x="209.0" y="244.8" width="33.7" height="11.9"/>
<rect x="341.8" y="135.5" width="46.2" height="8.3"/>
<rect x="356.2" y="124.4" width="77.6" height="16.3"/>
<rect x="290.1" y="186.7" width="78.8" height="5.8"/>
<rect x="210.7" y="281.3" width="44.6" height="18.4"/>
<rect x="323.7" y="190.3" width="53.9" height="17.4"/>
<rect x="286.3" y="178.3" width="84.1" height="20.7"/>
<rect x="355.9" y="144.8" width="64.9" height="21.9"/>
<rect x="262.1" y="224.0" width="100.4" height="5.5"/>
<rect x="295.1" y="196.2" width="79.6" height="24.0"/>
<rect x="345.2" y="149.2" width="47.3" height="13.4"/>
<rect x="336.1" y="147.2" width="64.7" height="18.0"/>
<rect x="333.4" y="156.3" width="84.6" height="18.8"/>
<rect x="232.4" y="254.8" width="55.2" height="21.6"/>
<rect x="308.1" y="161.8" width="28.6" height="21.2"/>
<rect x="370.2" y="115.1" width="67.8" height="18.3"/>
<rect x="399.2" y="97.8" width="55.6" height="18.1"/>
<rect x="208.4" y="280.0" width="60.9" height="6.9"/>
<rect x="344.5" y="148.5" width="48.2" height="11.4"/>
<rect x="232.1" y="236.6" width="72.1" height="6.1"/>
<rect x="238.9" y="237.2" width="28.9" height="13.5"/>
<rect x="302.6" y="177.6" width="58.8" height="18.4"/>
<rect x="387.4" y="99.0" width="45.0" height="22.9"/>
<rect x="248.3" y="227.5" width="38.9" height="6.1"/>
<rect x="213.8" y="259.2" width="100.0" height="10.3"/>
<rect x="252.5" y="229.2" width="45.4" height="5.1"/>
<rect x="252.2" y="230.6" width="51.9" height="15.8"/>
<rect x="380.5" y="111.7" width="57.5" height="20.9"/>
<rect x="331.7" y="156.6" width="65.8" height="16.8"/>
<rect x="249.6" y="215.9" width="77.3" height="17.7"/>
<rect x="277.8" y="203.7" width="72.7" height="5.0"/>
<rect x="310.2" y="178.9" width="49.2" height="17.2"/>
<rect x="347.3" y="133.7" width="33.1" height="16.4"/>
<rect x="189.2" y="282.0" width="49.0" height="18.7"/>
<rect x="371.7" y="112.7" width="69.1" height="15.8"/>
<rect x="342.1" y="145.4" width="81.6" height="13.0"/>
<rect x="194.0" y="272.3" width="88.0" height="21.9"/>
<rect x="340.3" y="164.4" width="30.2" height="20.0"/>
<rect x="263.5" y="207.1" width="26.1" height="6.9"/>
<rect x="202.9" y="278.6" width="68.0" height="10.3"/>
<rect x="337.6" y="144.4" width="74.0" height="18.1"/>
<rect x="327.4" y="163.9" width="54.0" height="11.2"/>
<rect x="317.8" y="156.2" width="40.0" height="15.2"/>
<rect x="255.7" y="224.9" width="96.0" height="7.9"/>
<rect x="181.0" y="286.9" width="86.8" height="19.4"/>
<rect x="194.3" y="280.7" width="31.4" height="12.4"/>
<rect x="219.4" y="254.7" width="62.8" height="21.3"/>
<rect x="246.4" y="252.5" width="35.9" height="18.4"/>
<rect x="272.2" y="224.1" width="67.7" height="18.4"/>
<rect x="255.5" y="212.4" width="48.7" height="7.5"/>
<rect x="384.8" y="103.7" width="58.1" height="22.0"/>
<rect x="295.0" y="199.1" width="82.3" height="9.0"/>
<rect x="375.6" y="122.8" width="62.4" height="11.8"/>
<rect x="210.0" y="273.5" width="87.3" height="4.6"/>
<rect x="357.7" y="131.1" width="32.2" height="8.5"/>
<rect x="352.8" y="132.2" width="85.2" height="7.2"/>
<rect x="325.3" y="164.1" width="42.3" height="11.8"/>
<rect x="283.2" y="195.0" width="70.8" height="21.4"/>
<rect x="382.9" y="113.2" width="58.6" height="14.2"/>
<rect x="336.4" y="152.2" width="62.7" height="19.0"/>
<rect x="284.8" y="193.3" width="80.2" height="7.7"/>
<rect x="381.8" y="96.6" width="23.3" height="17.8"/>
<rect x="406.5" y="91.4" width="52.0" height="5.8"/>
<rect x="333.7" y="147.6" width="80.8" height="5.4"/>
<rect x="259.0" y="220.1" width="65.1" height="15.2"/>
<rect x="211.0" y="257.6" width="79.6" height="12.4"/>
<rect x="256.0" y="223.6" width="31.4" height="5.7"/>
<rect x="390.1" y="99.8" width="25.7" height="16.4"/>
<rect x="311.2" y="183.4" width="69.9" height="21.3"/>
<rect x="246.4" y="221.3" width="95.7" height="6.9"/>
<rect x="369.9" y="131.4" width="44.9" height="18.2"/>
<rect x="279.9" y="204.7" width="43.3" height="20.9"/>
<rect x="338.8" y="142.3" width="82.5" height="19.0"/>
<rect x="400.0" y="99.5" width="42.4" height="6.7"/>
<rect x="329.4" y="175.5" width="69.5" height="9.0"/>
<rect x="342.2" y="132.2" width="48.8" height="4.1"/>
<rect x="275.2" y="198.4" width="59.4" height="7.1"/>
<rect x="368.9" y="119.4" width="72.0" height="8.7"/>
<rect x="264.8" y="217.7" width="36.3" height="14.1"/>
<rect x="406.3" y="87.2" width="33.5" height="5.4"/>
<rect x="198.1" y="282.5" width="44.8" height="21.0"/>
<rect x="287.9" y="184.6" width="76.0" height="6.0"/>
<rect x="346.3" y="153.0" width="71.9" height="21.5"/>
<rect x="295.3" y="183.6" width="75.4" height="8.6"/>
<rect x="339.8" y="168.8" width="67.9" height="7.5"/>
<rect x="313.4" y="162.3" width="64.0" height="6.0"/>
<rect x="335.2" y="151.5" width="71.7" height="7.9"/>
<rect x="308.0" y="176.9" width="80.6" height="4.2"/>
<rect x="279.4" y="191.7" width="27.3" height="10.8"/>
<rect x="258.6" y="230.6" width="63.0" height="13.1"/>
<rect x="305.0" y="166.6" width="70.2" height="4.6"/>
<rect x="207.9" y="258.9" width="46.4" height="17.4"/>
<rect x="241.8" y="250.9" width="37.2" height="5.8"/>
<rect x="380.9" y="107.2" width="28.0" height="16.9"/>
<rect x="212.9" y="263.7" width="57.8" height="6.2"/>
<rect x="294.0" y="202.4" width="28.8" height="15.1"/>
<rect x="379.9" y="103.7" width="65.2" height="19.2"/>
<rect x="359.4" y="112.2" width="33.1" height="19.8"/>
<rect x="276.6" y="195.4" width="30.0" height="10.7"/>
<rect x="280.5" y="187.7" width="28.3" height="11.7"/>
<rect x="255.7" y="238.7" width="84.3" height="9.5"/>
<rect x="236.2" y="240.5" width="39.9" height="18.8"/>
<rect x="253.5" y="215.4" width="36.9" height="8.0"/>
<rect x="381.9" y="117.9" width="52.7" height="21.3"/>
<rect x="370.8" y="127.8" width="57.3" height="5.1"/>
<rect x="307.6" y="159.4" width="46.5" height="6.5"/>
<rect x="272.4" y="209.4" width="79.8" height="5.9"/>
<rect x="327.4" y="148.7" width="48.8" height="4.5"/>
<rect x="341.1" y="154.5" width="81.7" height="7.8"/>
<rect x="361.4" y="138.4" width="65.8" height="15.0"/>
<rect x="281.9" y="204.5" width="79.0" height="14.5"/>
<rect x="355.8" y="134.1" width="77.4" height="12.7"/>
<rect x="395.7" y="97.4" width="47.3" height="16.1"/>
<rect x="334.5" y="165.4" width="65.5" height="9.0"/>
<rect x="352.7" y="129.6" width="85.3" height="10.6"/>
<rect x="201.4" y="287.4" width="45.6" height="23.5"/>
<rect x="241.0" y="233.3" width="63.3" height="19.5"/>
<rect x="260.1" y="213.8" width="66.6" height="6.1"/>
<rect x="268.2" y="192.6" width="42.9" height="11.0"/>
<rect x="352.5" y="144.6" width="46.0" height="17.6"/>
<rect x="222.5" y="247.8" width="68.5" height="18.4"/>
<rect x="239.1" y="233.9" width="93.7" height="23.4"/>
<rect x="290.9" y="186.1" width="65.6" height="22.4"/>
<rect x="368.1" y="125.1" width="69.9" height="7.8"/>
<rect x="281.9" y="185.1" width="60.1" height="6.8"/>
<rect x="358.9" y="120.1" width="32.9" height="13.5"/>
<rect x="259.5" y="218.6" width="49.1" height="6.2"/>
<rect x="271.2" y="205.0" width="69.2" height="14.1"/>
<rect x="169.8" y="296.7" width="101.7" height="8.8"/>
<rect x="219.1" y="246.1" width="43.8" height="13.8"/>
<rect x="256.5" y="241.3" width="70.2" height="9.0"/>
<rect x="256.2" y="210.8" width="99.9" height="12.7"/>
<rect x="314.7" y="170.1" width="69.0" height="5.3"/>
<rect x="173.5" y="297.3" width="87.9" height="9.1"/>
<rect x="351.5" y="145.5" width="73.0" height="13.5"/>
<rect x="389.0" y="102.8" width="60.9" height="16.6"/>
<rect x="336.2" y="121.7" width="24.8" height="18.4"/>
<rect x="255.2" y="238.6" width="22.7" height="22.8"/>
<rect x="372.2" y="115.0" width="40.1" height="4.9"/>
<rect x="175.8" y="297.2" width="75.1" height="4.8"/>
<rect x="256.9" y="213.8" width="34.2" height="14.1"/>
<rect x="268.3" y="204.6" width="90.7" height="12.1"/>
<rect x="196.4" y="285.7" width="43.3" height="7.7"/>
<rect x="325.1" y="161.8" width="71.9" height="6.2"/>
<rect x="288.9" y="194.0" width="69.3" height="10.1"/>
<rect x="258.8" y="212.1" width="54.5" height="7.8"/>
<rect x="269.1" y="216.5" width="51.1" height="7.7"/>
<rect x="280.4" y="202.9" width="36.3" height="9.2"/>
<rect x="243.0" y="232.6" width="89.2" height="11.0"/>
<rect x="239.3" y="226.5" width="62.6" height="18.2"/>
<rect x="320.0" y="177.7" width="77.4" height="7.1"/>
<rect x="223.6" y="255.6" width="73.2" height="11.8"/>
<rect x="185.1" y="275.5" width="48.5" height="11.2"/>
<rect x="268.0" y="214.3" width="25.1" height="21.8"/>
<rect x="222.0" y="259.3" width="41.9" height="6.9"/>
<rect x="291.3" y="195.9" width="77.8" height="19.3"/>
<rect x="392.1" y="106.3" width="56.9" height="11.2"/>
<rect x="336.3" y="144.6" width="51.7" height="20.9"/>
<rect x="274.3" y="209.7" width="77.1" height="20.2"/>
<rect x="235.2" y="260.7" width="27.5" height="7.6"/>
<rect x="348.3" y="139.0" width="46.1" height="10.5"/>
<rect x="305.5" y="182.3" width="37.3" height="9.1"/>
<rect x="244.3" y="243.6" width="47.7" height="10.9"/>
<rect x="372.2" y="119.3" width="43.6" height="20.1"/>
<rect x="399.9" y="85.2" width="30.0" height="21.2"/>
<rect x="198.2" y="263.7" width="28.4" height="16.6"/>
<rect x="257.8" y="222.1" width="94.6" height="20.2"/>
<rect x="200.1" y="274.8" width="34.6" height="13.5"/>
<rect x="221.2" y="249.6" width="38.2" height="10.6"/>
<rect x="342.6" y="125.7" width="39.7" height="13.9"/>
<rect x="340.9" y="132.1" width="33.7" height="4.7"/>
<rect x="327.8" y="159.1" width="22.2" height="22.2"/>
<rect x="258.5" y="235.0" width="72.6" height="18.7"/>
<rect x="325.7" y="148.1" width="91.2" height="15.2"/>
<rect x="322.7" y="157.0" width="76.3" height="7.2"/>
<rect x="345.6" y="133.9" width="92.4" height="4.2"/>
<rect x="268.9" y="222.3" width="33.5" height="22.9"/>
<rect x="320.9" y="168.3" width="50.7" height="22.2"/>
<rect x="402.9" y="85.6" width="52.4" height="12.1"/>
<rect x="201.4" y="269.7" width="42.1" height="23.3"/>
<rect x="385.2" y="100.9" width="38.1" height="16.6"/>
<rect x="376.0" y="113.5" width="40.8" height="19.5"/>
<rect x="290.3" y="188.8" width="87.7" height="13.4"/>
<rect x="340.2" y="158.6" width="42.7" height="12.5"/>
<rect x="299.8" y="170.2" width="54.4" height="22.9"/>
<rect x="308.3" y="164.7" width="71.6" height="11.1"/>
<rect x="357.0" y="123.8" width="76.9" height="11.8"/>
<rect x="290.2" y="183.6" width="47.2" height="6.0"/>
<rect x="338.9" y="145.0" width="66.4" height="18.8"/>
<rect x="376.0" y="114.8" width="27.5" height="19.5"/>
<rect x="277.2" y="208.2" width="23.7" height="22.9"/>
<rect x="272.0" y="190.7" width="38.1" height="6.4"/>
<rect x="348.7" y="137.7" width="69.5" height="21.9"/>
<rect x="250.3" y="227.6" width="42.4" height="6.2"/>
<rect x="240.9" y="252.2" width="90.0" height="11.9"/>
<rect x="366.7" y="121.3" width="75.5" height="5.4"/>
<rect x="326.3" y="148.4" width="35.3" height="6.5"/>
<rect x="357.3" y="132.3" width="24.3" height="21.5"/>
<rect x="356.0" y="118.4" width="34.9" height="9.3"/>
<rect x="329.0" y="157.4" width="51.2" height="21.1"/>
<rect x="253.6" y="215.0" width="87.3" height="7.9"/>
<rect x="277.2" y="209.7" width="60.8" height="11.3"/>
<rect x="257.1" y="214.6" width="34.8" height="15.1"/>
<rect x="227.8" y="236.6" width="70.0" height="7.3"/>
<rect x="339.1" y="139.4" width="64.4" height="8.2"/>
<rect x="212.4" y="277.4" width="63.7" height="11.6"/>
<rect x="347.9" y="124.9" width="88.6" height="18.6"/>
<rect x="320.5" y="154.4" width="28.1" height="6.1"/>
<rect x="380.5" y="115.7" width="57.4" height="7.8"/>
<rect x="269.5" y="215.7" width="31.1" height="17.2"/>
<rect x="370.3" y="112.7" width="77.2" height="8.5"/>
<rect x="362.2" y="130.4" width="23.4" height="24.2"/>
<rect x="234.9" y="254.0" width="74.2" height="3.4"/>
<rect x="333.6" y="146.1" width="87.2" height="20.8"/>
<rect x="268.5" y="220.6" width="97.9" height="4.6"/>
<rect x="186.7" y="271.5" width="76.9" height="4.6"/>
<rect x="294.6" y="191.4" width="37.9" height="12.1"/>
<rect x="221.7" y="256.9" width="68.0" height="9.0"/>
<rect x="271.4" y="194.9" width="43.7" height="22.7"/>
<rect x="183.3" y="270.8" width="46.6" height="9.1"/>
<rect x="207.9" y="276.2" width="48.1" height="20.5"/>
<rect x="241.0" y="223.8" width="94.3" height="14.7"/>
<rect x="274.1" y="216.7" width="96.0" height="7.2"/>
<rect x="347.6" y="143.1" width="73.2" height="23.9"/>
<rect x="383.7" y="109.4" width="42.6" height="15.0"/>
<rect x="282.4" y="196.0" width="60.6" height="12.9"/>
<rect x="214.9" y="267.1" width="67.4" height="19.3"/>
<rect x="299.7" y="182.5" width="93.5" height="9.3"/>
<rect x="303.2" y="169.3" width="23.3" height="4.5"/>
<rect x="257.9" y="217.8" width="29.7" height="22.3"/>
<rect x="243.0" y="231.2" width="33.6" height="18.1"/>
<rect x="383.1" y="108.7" width="34.7" height="15.6"/>
<rect x="244.3" y="218.9" width="43.9" height="17.6"/>
<rect x="183.4" y="278.8" width="26.1" height="16.3"/>
<rect x="370.2" y="111.1" width="71.9" height="8.0"/>
<rect x="352.0" y="132.3" width="57.8" height="9.0"/>
<rect x="370.5" y="111.9" width="55.1" height="15.6"/>
<rect x="338.4" y="156.2" width="73.8" height="22.6"/>
<rect x="362.7" y="120.4" width="79.4" height="6.4"/>
<rect x="343.4" y="147.5" width="31.2" height="5.9"/>
<rect x="314.0" y="161.7" width="88.1" height="18.8"/>
<rect x="261.6" y="217.5" width="31.0" height="15.4"/>
<rect x="304.9" y="180.3" width="34.3" height="7.0"/>
<rect x="289.2" y="192.4" width="36.6" height="20.2"/>
<rect x="196.6" y="270.0" width="38.8" height="10.7"/>
<rect x="267.9" y="213.0" width="72.3" height="8.8"/>
<rect x="209.4" y="259.3" width="91.7" height="21.3"/>
<rect x="268.8" y="215.3" width="33.8" height="23.0"/>
<rect x="365.7" y="117.1" width="68.6" height="20.9"/>
<rect x="310.7" y="168.5" width="38.9" height="18.1"/>
<rect x="251.6" y="234.2" width="46.2" height="7.4"/>
<rect x="277.7" y="203.3" width="49.8" height="22.0"/>
<rect x="261.4" y="211.2" width="38.8" height="12.1"/>
<rect x="280.6" y="186.8" width="36.0" height="20.2"/>
<rect x="354.4" y="132.7" width="44.9" height="21.7"/>
<rect x="276.5" y="207.9" width="87.1" height="12.3"/>
<rect x="237.7" y="243.5" width="53.3" height="11.5"/>
<rect x="276.4" y="210.6" width="51.3" height="23.8"/>
<rect x="305.5" y="179.7" width="89.2" height="17.3"/>
<rect x="385.5" y="110.0" width="31.1" height="19.5"/>
<rect x="350.1" y="137.0" width="26.7" height="13.8"/>
<rect x="381.9" y="103.4" width="80.0" height="7.4"/>
<rect x="295.9" y="179.2" width="34.2" height="9.8"/>
<rect x="285.9" y="187.2" width="93.2" height="19.2"/>
<rect x="256.0" y="217.0" width="51.5" height="6.9"/>
<rect x="219.9" y="243.2" width="42.3" height="17.8"/>
<rect x="191.6" y="283.4" width="54.0" height="16.6"/>
<rect x="205.2" y="249.2" width="60.3" height="21.2"/>
<rect x="246.9" y="234.3" width="51.5" height="21.7"/>
<rect x="235.8" y="238.1" width="74.4" height="19.4"/>
<rect x="304.9" y="177.8" width="105.2" height="4.9"/>
<rect x="316.8" y="160.7" width="98.8" height="6.0"/>
<rect x="245.1" y="226.8" width="86.4" height="8.0"/>
<rect x="342.0" y="125.0" width="90.9" height="5.9"/>
<rect x="236.4" y="228.4" width="53.0" height="5.8"/>
<rect x="294.2" y="180.1" width="37.5" height="19.0"/>
<rect x="233.4" y="239.5" width="41.7" height="18.4"/>
<rect x="360.2" y="131.0" width="49.3" height="18.0"/>
<rect x="385.1" y="102.8" width="37.8" height="6.9"/>
<rect x="325.1" y="162.6" width="51.4" height="8.3"/>
<rect x="285.4" y="203.7" width="50.5" height="8.6"/>
<rect x="287.1" y="185.5" width="30.8" height="12.6"/>
<rect x="286.8" y="177.4" width="56.6" height="16.0"/>
<rect x="291.6" y="182.9" width="38.5" height="22.7"/>
<rect x="257.2" y="226.1" width="47.5" height="18.8"/>
<rect x="345.3" y="152.8" width="74.6" height="16.0"/>
<rect x="354.3" y="128.2" width="53.9" height="13.9"/>
<rect x="296.5" y="189.3" width="26.7" height="12.4"/>
<rect x="292.4" y="184.4" width="77.3" height="6.1"/>
<rect x="287.4" y="167.8" width="99.0" height="8.6"/>
<rect x="195.9" y="263.8" width="30.0" height="10.9"/>
<rect x="397.3" y="90.6" width="30.5" height="6.3"/>
<rect x="272.0" y="222.3" width="51.4" height="18.5"/>
<rect x="349.1" y="130.2" width="85.9" height="14.8"/>
<rect x="358.0" y="123.6" width="81.4" height="6.5"/>
<rect x="276.5" y="203.2" width="73.9" height="14.2"/>
<rect x="389.1" y="97.6" width="70.2" height="12.5"/>
<rect x="223.9" y="252.5" width="65.1" height="15.6"/>
<rect x="402.2" y="103.4" width="60.8" height="6.2"/>
<rect x="245.5" y="212.9" width="62.8" height="12.5"/>
<rect x="385.8" y="112.9" width="34.4" height="6.3"/>
<rect x="313.6" y="170.5" width="66.7" height="24.1"/>
<rect x="218.9" y="257.0" width="40.2" height="4.8"/>
<rect x="195.0" y="274.0" width="33.1" height="11.5"/>
<rect x="250.8" y="223.2" width="93.6" height="7.2"/>
<rect x="352.4" y="147.9" width="39.5" height="22.8"/>
<rect x="240.9" y="247.8" width="61.4" height="14.8"/>
<rect x="214.1" y="254.6" width="43.9" height="7.3"/>
<rect x="337.4" y="138.2" width="42.4" height="15.7"/>
<rect x="310.0" y="172.5" width="58.2" height="6.9"/>
<rect x="195.4" y="277.5" width="101.0" height="7.9"/>
<rect x="287.1" y="198.8" width="83.3" height="7.9"/>
<rect x="347.5" y="131.9" width="80.1" height="21.0"/>
<rect x="307.9" y="161.4" width="44.3" height="17.1"/>
<rect x="393.0" y="88.9" width="59.5" height="16.8"/>
<rect x="354.3" y="128.0" width="30.0" height="7.8"/>
<rect x="205.4" y="274.8" width="85.3" height="23.1"/>
<rect x="361.1" y="119.5" width="53.9" height="19.9"/>
<rect x="200.0" y="271.0" width="77.1" height="10.1"/>
<rect x="265.0" y="209.4" width="62.7" height="15.1"/>
<rect x="366.3" y="123.3" width="65.5" height="21.3"/>
<rect x="251.5" y="236.5" width="34.8" height="14.1"/>
<rect x="279.5" y="200.8" width="35.0" height="18.0"/>
<rect x="270.9" y="208.1" width="22.4" height="7.8"/>
<rect x="208.7" y="266.0" width="44.9" height="16.3"/>
<rect x="296.9" y="175.5" width="80.7" height="13.3"/>
<rect x="271.4" y="190.4" width="80.1" height="5.9"/>
<rect x="380.2" y="114.3" width="37.5" height="16.3"/>
<rect x="289.7" y="177.4" width="62.5" height="20.0"/>
<rect x="288.6" y="188.5" width="73.2" height="10.5"/>
<rect x="266.9" y="204.4" width="82.0" height="13.8"/>
<rect x="322.4" y="160.5" width="51.5" height="14.9"/>
<rect x="359.4" y="137.8" width="59.3" height="8.0"/>
<rect x="311.4" y="177.8" width="74.4" height="18.0"/>
<rect x="354.4" y="148.1" width="67.2" height="17.2"/>
<rect x="227.8" y="248.4" width="65.5" height="13.8"/>
<rect x="288.5" y="186.1" width="32.2" height="8.4"/>
<rect x="370.2" y="116.1" width="75.4" height="6.5"/>
<rect x="293.1" y="209.2" width="25.0" height="8.3"/>
<rect x="192.9" y="285.6" width="75.4" height="3.9"/>
<rect x="273.6" y="218.5" width="41.4" height="11.5"/>
<rect x="232.0" y="254.0" width="102.5" height="4.3"/>
<rect x="303.8" y="181.5" width="46.3" height="8.0"/>
<rect x="288.9" y="184.6" width="88.8" height="23.1"/>
<rect x="254.8" y="215.2" width="26.2" height="19.7"/>
<rect x="386.8" y="101.3" width="67.9" height="14.7"/>
<rect x="335.5" y="159.0" width="40.2" height="6.2"/>
<rect x="221.1" y="263.6" width="71.2" height="17.1"/>
<rect x="330.3" y="144.0" width="56.0" height="18.5"/>
<rect x="309.7" y="168.7" width="69.7" height="6.2"/>
<rect x="241.4" y="233.1" width="104.6" height="8.0"/>
<rect x="214.2" y="264.3" width="90.7" height="9.7"/>
<rect x="221.8" y="263.2" width="59.1" height="8.8"/>
<rect x="373.8" y="133.7" width="53.4" height="19.9"/>
<rect x="291.6" y="177.0" width="71.6" height="16.8"/>
<rect x="334.0" y="138.4" width="34.7" height="13.5"/>
<rect x="345.3" y="129.3" width="73.9" height="21.5"/>
<rect x="227.3" y="247.4" width="26.9" height="19.1"/>
<rect x="237.1" y="245.0" width="66.2" height="4.8"/>
<rect x="354.5" y="131.8" width="57.5" height="22.9"/>
<rect x="251.2" y="224.0" width="79.2" height="10.6"/>
<rect x="259.6" y="206.7" width="70.9" height="13.0"/>
<rect x="360.2" y="123.6" width="77.8" height="12.0"/>
<rect x="248.1" y="220.2" width="38.9" height="5.8"/>
<rect x="208.6" y="266.8" width="36.8" height="6.9"/>
<rect x="323.5" y="150.8" width="47.8" height="10.6"/>
<rect x="332.5" y="155.6" width="73.8" height="19.2"/>
<rect x="213.6" y="259.3" width="66.6" height="4.7"/>
<rect x="238.5" y="223.6" width="101.1" height="11.2"/>
<rect x="321.7" y="155.3" width="86.5" height="11.4"/>
<rect x="244.5" y="246.3" width="25.0" height="18.6"/>
<rect x="203.7" y="279.9" width="83.0" height="21.4"/>
<rect x="294.4" y="193.5" width="81.0" height="16.2"/>
<rect x="248.7" y="232.4" width="90.4" height="8.8"/>
<rect x="220.5" y="236.7" width="81.2" height="16.2"/>
<rect x="294.0" y="175.2" width="83.0" height="9.3"/>
<rect x="257.7" y="228.7" width="74.5" height="21.5"/>
<rect x="310.1" y="168.8" width="26.8" height="12.7"/>
<rect x="348.5" y="144.0" width="72.6" height="22.1"/>
<rect x="387.3" y="113.8" width="50.7" height="21.4"/>
<rect x="375.3" y="95.4" width="69.8" height="11.4"/>
<rect x="193.3" y="280.2" width="32.1" height="20.9"/>
<rect x="280.2" y="203.4" width="94.0" height="17.2"/>
<rect x="202.9" y="266.6" width="46.5" height="5.5"/>
<rect x="211.1" y="275.1" width="58.1" height="21.6"/>
<rect x="324.3" y="157.6" width="93.2" height="8.1"/>
<rect x="212.7" y="257.1" width="28.7" height="8.9"/>
<rect x="357.4" y="134.3" width="33.0" height="14.6"/>
<rect x="299.2" y="190.0" width="98.4" height="8.8"/>
<rect x="352.7" y="129.4" width="85.3" height="8.4"/>
<rect x="227.6" y="254.2" width="96.3" height="20.2"/>
<rect x="276.1" y="204.9" width="35.0" height="7.3"/>
<rect x="316.4" y="166.2" width="41.1" height="13.0"/>
<rect x="360.1" y="123.3" width="77.9" height="11.7"/>
<rect x="310.2" y="166.9" width="91.3" height="5.3"/>
<rect x="365.2" y="125.0" width="57.4" height="18.3"/>
<rect x="366.5" y="107.2" width="27.1" height="12.4"/>
<rect x="359.6" y="112.2" width="33.9" height="24.5"/>
<rect x="274.6" y="201.4" width="86.5" height="7.1"/>
<rect x="345.0" y="142.6" width="71.3" height="21.8"/>
<rect x="269.9" y="217.3" width="22.3" height="8.1"/>
<rect x="244.9" y="221.1" width="84.1" height="20.6"/>
<rect x="404.9" y="85.5" width="50.4" height="6.6"/>
<rect x="402.1" y="96.1" width="39.6" height="9.4"/>
<rect x="224.7" y="251.3" width="66.4" height="22.7"/>
<rect x="327.3" y="154.6" width="90.6" height="6.0"/>
<rect x="375.0" y="127.7" width="35.1" height="16.8"/>
<rect x="196.9" y="263.6" width="26.1" height="9.7"/>
<rect x="310.4" y="169.7" width="51.0" height="21.0"/>
<rect x="207.6" y="263.7" width="40.8" height="8.6"/>
<rect x="222.1" y="241.2" width="54.2" height="20.5"/>
<rect x="264.5" y="219.5" width="65.6" height="10.2"/>
<rect x="330.4" y="162.6" width="34.5" height="8.1"/>
<rect x="301.0" y="183.8" width="52.7" height="9.5"/>
<rect x="327.8" y="155.3" width="55.8" height="22.0"/>
<rect x="343.7" y="150.6" width="74.5" height="23.0"/>
<rect x="296.6" y="181.1" width="33.5" height="17.8"/>
<rect x="289.6" y="195.7" width="81.7" height="12.1"/>
<rect x="257.5" y="225.7" width="82.0" height="23.3"/>
<rect x="250.7" y="236.5" width="49.3" height="21.6"/>
<rect x="345.5" y="119.1" width="65.6" height="9.0"/>
<rect x="329.3" y="144.7" width="100.2" height="5.8"/>
<rect x="351.8" y="140.1" width="72.7" height="18.9"/>
<rect x="311.2" y="176.5" width="90.7" height="18.2"/>
<rect x="371.7" y="115.6" width="58.7" height="24.1"/>
<rect x="364.1" y="115.6" width="35.6" height="18.5"/>
<rect x="208.7" y="267.2" width="32.0" height="19.0"/>
<rect x="281.6" y="185.3" width="97.5" height="6.9"/>
<rect x="211.3" y="251.1" width="28.2" height="23.0"/>
<rect x="392.6" y="101.3" width="68.4" height="8.6"/>
<rect x="283.3" y="192.4" width="40.4" height="5.6"/>
<rect x="230.0" y="231.2" width="65.4" height="21.9"/>
<rect x="368.8" y="135.8" width="58.9" height="16.7"/>
<rect x="202.2" y="266.8" width="49.9" height="4.4"/>
<rect x="217.9" y="247.0" width="54.4" height="7.0"/>
<rect x="244.0" y="230.6" width="94.3" height="20.8"/>
<rect x="275.8" y="232.4" width="51.3" height="12.9"/>
<rect x="241.5" y="231.9" width="47.1" height="4.3"/>
<rect x="307.5" y="181.7" width="92.5" height="16.6"/>
<rect x="324.1" y="175.2" width="49.0" height="4.7"/>
<rect x="255.6" y="232.3" width="74.1" height="14.0"/>
<rect x="316.5" y="157.1" width="93.9" height="6.2"/>
<rect x="340.8" y="144.1" width="45.0" height="16.1"/>
<rect x="337.8" y="156.2" width="67.3" height="5.0"/>
<rect x="324.9" y="172.3" width="84.2" height="17.6"/>
<rect x="352.0" y="113.8" width="69.1" height="5.9"/>
<rect x="268.8" y="220.9" width="76.1" height="21.0"/>
<rect x="401.8" y="89.9" width="37.1" height="10.9"/>
<rect x="251.7" y="230.9" width="24.7" height="21.7"/>
<rect x="241.4" y="243.7" width="74.4" height="11.1"/>
<rect x="192.7" y="274.9" width="63.1" height="9.0"/>
<rect x="211.7" y="269.6" width="36.8" height="19.0"/>
<rect x="351.0" y="158.7" width="71.2" height="5.2"/>
<rect x="342.9" y="157.8" width="78.3" height="8.3"/>
<rect x="364.4" y="112.5" width="59.5" height="7.3"/>
<rect x="391.1" y="108.8" width="52.1" height="6.4"/>
<rect x="327.8" y="141.5" width="44.6" height="4.9"/>
<rect x="250.3" y="213.9" width="72.5" height="15.4"/>
<rect x="370.7" y="124.3" width="67.3" height="9.8"/>
<rect x="397.4" y="92.0" width="35.6" height="17.3"/>
<rect x="272.4" y="201.7" width="96.8" height="11.3"/>
<rect x="202.1" y="272.7" width="32.1" height="8.9"/>
<rect x="278.2" y="211.1" width="41.0" height="3.3"/>
<rect x="236.9" y="223.6" width="29.2" height="10.4"/>
<rect x="390.3" y="93.4" width="32.2" height="19.7"/>
<rect x="362.5" y="123.8" width="31.5" height="15.0"/>
<rect x="197.8" y="259.8" width="88.6" height="19.1"/>
<rect x="319.8" y="172.0" width="26.7" height="3.8"/>
<rect x="397.4" y="98.5" width="64.8" height="4.5"/>
<rect x="297.1" y="193.4" width="42.9" height="15.8"/>
<rect x="180.4" y="271.0" width="48.1" height="9.5"/>
<rect x="191.5" y="272.7" width="49.0" height="19.6"/>
<rect x="192.0" y="272.8" width="29.9" height="19.4"/>
<rect x="200.0" y="269.8" width="81.8" height="11.9"/>
<rect x="188.1" y="275.1" width="36.9" height="11.2"/>
<rect x="211.0" y="278.3" width="57.5" height="7.7"/>
<rect x="174.0" y="285.3" width="62.6" height="22.2"/>
<rect x="181.1" y="283.1" width="41.6" height="9.8"/>
<rect x="184.6" y="280.7" width="85.7" height="8.7"/>
<rect x="191.6" y="279.2" width="68.5" height="13.0"/>
<rect x="194.6" y="284.5" width="63.6" height="5.4"/>
<rect x="200.6" y="286.0" width="75.4" height="10.9"/>
<rect x="204.5" y="285.1" width="60.0" height="10.8"/>
<rect x="175.6" y="292.4" width="46.1" height="8.4"/>
<rect x="180.8" y="290.2" width="93.7" height="20.9"/>
<rect x="184.4" y="291.8" width="43.5" height="7.3"/>
<rect x="180.5" y="295.2" width="56.0" height="21.2"/>
<rect x="197.7" y="296.9" width="68.5" height="16.3"/>
<rect x="177.6" y="298.5" width="49.6" height="14.7"/>
<rect x="172.2" y="302.1" width="69.3" height="4.7"/>
<rect x="169.7" y="301.7" width="53.1" height="18.4"/>
<rect x="184.2" y="304.8" width="89.7" height="4.0"/>
<rect x="184.4" y="302.2" width="97.6" height="8.2"/>
<rect x="187.0" y="306.6" width="38.9" height="12.4"/>
<rect x="160.2" y="306.4" width="80.1" height="8.7"/>
<rect x="165.6" y="305.8" width="100.7" height="18.3"/>
<rect x="169.2" y="307.8" width="100.3" height="6.7"/>
<rect x="178.4" y="308.6" width="56.2" height="17.2"/>
<rect x="158.3" y="313.5" width="33.7" height="22.5"/>
<rect x="163.1" y="316.5" width="67.3" height="16.6"/>
<rect x="157.3" y="317.2" width="43.1" height="11.6"/>
<rect x="157.0" y="324.3" width="35.0" height="11.7"/>
<rect x="177.5" y="317.8" width="65.0" height="11.3"/>
<rect x="171.6" y="299.8" width="66.2" height="21.7"/>
<rect x="189.8" y="261.3" width="81.8" height="22.4"/>
<rect x="179.0" y="271.3" width="97.8" height="18.0"/>
<rect x="394.0" y="83.9" width="61.0" height="22.9"/>
<rect x="386.3" y="86.8" width="69.7" height="19.9"/>
<rect x="379.4" y="90.2" width="32.3" height="7.9"/>
<rect x="383.8" y="94.4" width="71.2" height="21.3"/>
<rect x="387.2" y="92.6" width="66.5" height="5.9"/>
<rect x="391.8" y="91.1" width="66.5" height="8.0"/>
<rect x="392.8" y="93.1" width="66.5" height="5.6"/>
<rect x="399.6" y="91.6" width="52.2" height="6.6"/>
<rect x="413.3" y="97.2" width="48.2" height="9.3"/>
<rect x="409.9" y="98.4" width="37.4" height="23.0"/>
<rect x="408.5" y="99.5" width="37.7" height="7.3"/>
<rect x="397.1" y="99.3" width="27.7" height="13.6"/>
<rect x="396.5" y="100.9" width="54.2" height="18.0"/>
<rect x="390.9" y="99.0" width="28.8" height="8.5"/>
<rect x="395.7" y="108.1" width="35.8" height="22.5"/>
<rect x="385.7" y="122.7" width="52.1" height="19.5"/>
<rect x="373.9" y="99.8" width="26.8" height="12.5"/>
<rect x="377.0" y="100.9" width="77.8" height="5.1"/>
<rect x="363.7" y="107.3" width="77.7" height="20.3"/>
<rect x="394.8" y="108.7" width="43.3" height="23.3"/>
<rect x="409.8" y="96.6" width="51.4" height="13.0"/>
<rect x="107.5" y="362.8" width="83.2" height="19.2"/>
<rect x="131.6" y="333.2" width="87.4" height="2.7"/>
<rect x="154.4" y="318.0" width="72.6" height="14.5"/>
<rect x="471.5" y="32.3" width="33.5" height="9.1"/>
<rect x="453.3" y="43.1" width="57.0" height="10.4"/>
<rect x="453.0" y="40.5" width="28.0" height="7.0"/>
<rect x="440.0" y="54.5" width="18.0" height="4.0"/>
<rect x="435.0" y="53.5" width="27.0" height="6.5"/>
<rect x="416.0" y="58.7" width="47.3" height="21.1"/>
<rect x="459.0" y="58.5" width="3.5" height="21.5"/>
<rect x="434.0" y="62.5" width="17.0" height="13.5"/>
<rect x="434.5" y="70.0" width="20.0" height="14.0"/>
<rect x="435.0" y="78.5" width="12.0" height="19.5"/>
<rect x="406.6" y="78.6" width="48.7" height="12.9"/>
<rect x="418.5" y="83.0" width="36.8" height="8.5"/>
<rect x="434.0" y="87.0" width="12.5" height="11.0"/>
<rect x="416.0" y="92.0" width="84.0" height="11.5"/>
<rect x="405.0" y="98.0" width="76.0" height="23.0"/>
<rect x="437.6" y="98.3" width="45.1" height="24.0"/>
</g>
<g fill="none" stroke="#ff0000" stroke-width="1.7">
<circle cx="251.4" cy="228.8" r="3.0"/>
<circle cx="408.7" cy="89.1" r="3.0"/>
<circle cx="356.6" cy="142.1" r="3.0"/>
<circle cx="408.5" cy="92.5" r="3.0"/>
<circle cx="327.2" cy="158.1" r="3.0"/>
<circle cx="356.5" cy="137.9" r="3.0"/>
<circle cx="253.3" cy="235.9" r="3.0"/>
<circle cx="309.3" cy="172.2" r="3.0"/>
<circle cx="277.5" cy="218.1" r="3.0"/>
<circle cx="343.9" cy="170.5" r="3.0"/>
<circle cx="300.8" cy="188.7" r="3.0"/>
<circle cx="315.7" cy="187.9" r="3.0"/>
<circle cx="194.4" cy="294.4" r="3.0"/>
<circle cx="290.4" cy="192.8" r="3.0"/>
<circle cx="311.6" cy="202.5" r="3.0"/>
<circle cx="367.4" cy="131.5" r="3.0"/>
<circle cx="321.7" cy="172.4" r="3.0"/>
<circle cx="237.1" cy="249.7" r="3.0"/>
<circle cx="326.9" cy="169.8" r="3.0"/>
<circle cx="386.3" cy="119.4" r="3.0"/>
<circle cx="307.3" cy="190.3" r="3.0"/>
<circle cx="378.8" cy="121.8" r="3.0"/>
<circle cx="311.1" cy="178.2" r="3.0"/>
<circle cx="206.7" cy="289.6" r="3.0"/>
<circle cx="407.3" cy="98.4" r="3.0"/>
<circle cx="202.7" cy="271.4" r="3.0"/>
<circle cx="254.3" cy="232.2" r="3.0"/>
<circle cx="335.9" cy="164.4" r="3.0"/>
<circle cx="372.1" cy="131.2" r="3.0"/>
<circle cx="240.1" cy="242.4" r="3.0"/>
<circle cx="384.6" cy="115.5" r="3.0"/>
<circle cx="347.9" cy="138.1" r="3.0"/>
<circle cx="278.7" cy="213.6" r="3.0"/>
<circle cx="290.5" cy="206.6" r="3.0"/>
<circle cx="388.5" cy="128.8" r="3.0"/>
<circle cx="291.5" cy="191.4" r="3.0"/>
<circle cx="383.1" cy="120.4" r="3.0"/>
<circle cx="238.7" cy="248.5" r="3.0"/>
<circle cx="385.0" cy="99.4" r="3.0"/>
<circle cx="346.5" cy="162.6" r="3.0"/>
<circle cx="198.7" cy="294.8" r="3.0"/>
<circle cx="216.1" cy="273.3" r="3.0"/>
<circle cx="355.2" cy="145.9" r="3.0"/>
<circle cx="377.5" cy="121.5" r="3.0"/>
<circle cx="274.5" cy="218.3" r="3.0"/>
<circle cx="251.6" cy="238.0" r="3.0"/>
<circle cx="301.2" cy="193.2" r="3.0"/>
<circle cx="379.3" cy="113.8" r="3.0"/>
<circle cx="412.2" cy="80.3" r="3.0"/>
<circle cx="347.7" cy="132.6" r="3.0"/>
<circle cx="305.0" cy="196.6" r="3.0"/>
<circle cx="214.3" cy="287.1" r="3.0"/>
<circle cx="339.1" cy="167.5" r="3.0"/>
<circle cx="282.3" cy="207.4" r="3.0"/>
<circle cx="211.7" cy="262.4" r="3.0"/>
<circle cx="241.0" cy="247.1" r="3.0"/>
<circle cx="393.3" cy="104.0" r="3.0"/>
<circle cx="298.2" cy="196.4" r="3.0"/>
<circle cx="403.1" cy="101.8" r="3.0"/>
<circle cx="390.2" cy="102.2" r="3.0"/>
<circle cx="310.7" cy="189.6" r="3.0"/>
<circle cx="314.1" cy="185.1" r="3.0"/>
<circle cx="322.1" cy="181.0" r="3.0"/>
<circle cx="361.7" cy="137.7" r="3.0"/>
<circle cx="236.5" cy="245.4" r="3.0"/>
<circle cx="290.9" cy="211.5" r="3.0"/>
<circle cx="280.4" cy="209.8" r="3.0"/>
<circle cx="340.6" cy="162.8" r="3.0"/>
<circle cx="209.6" cy="274.6" r="3.0"/>
<circle cx="333.8" cy="150.8" r="3.0"/>
<circle cx="212.5" cy="268.8" r="3.0"/>
<circle cx="312.3" cy="167.4" r="3.0"/>
<circle cx="241.9" cy="235.9" r="3.0"/>
<circle cx="408.1" cy="93.9" r="3.0"/>
<circle cx="222.4" cy="257.4" r="3.0"/>
<circle cx="348.0" cy="170.0" r="3.0"/>
<circle cx="239.3" cy="238.4" r="3.0"/>
<circle cx="250.0" cy="233.3" r="3.0"/>
<circle cx="342.6" cy="157.4" r="3.0"/>
<circle cx="208.0" cy="294.1" r="3.0"/>
<circle cx="329.5" cy="165.7" r="3.0"/>
<circle cx="307.6" cy="190.5" r="3.0"/>
<circle cx="203.5" cy="279.0" r="3.0"/>
<circle cx="401.5" cy="95.8" r="3.0"/>
<circle cx="347.3" cy="143.4" r="3.0"/>
<circle cx="205.1" cy="287.0" r="3.0"/>
<circle cx="312.5" cy="179.2" r="3.0"/>
<circle cx="277.7" cy="212.1" r="3.0"/>
<circle cx="216.1" cy="268.7" r="3.0"/>
<circle cx="324.7" cy="181.8" r="3.0"/>
<circle cx="346.9" cy="164.7" r="3.0"/>
<circle cx="347.0" cy="150.0" r="3.0"/>
<circle cx="294.1" cy="191.8" r="3.0"/>
<circle cx="285.2" cy="201.0" r="3.0"/>
<circle cx="198.0" cy="274.3" r="3.0"/>
<circle cx="240.7" cy="243.1" r="3.0"/>
<circle cx="321.4" cy="178.2" r="3.0"/>
<circle cx="235.2" cy="256.3" r="3.0"/>
<circle cx="221.7" cy="258.4" r="3.0"/>
<circle cx="299.5" cy="191.8" r="3.0"/>
<circle cx="373.1" cy="123.4" r="3.0"/>
<circle cx="409.3" cy="96.2" r="3.0"/>
<circle cx="205.3" cy="287.6" r="3.0"/>
<circle cx="355.2" cy="144.8" r="3.0"/>
<circle cx="365.6" cy="126.9" r="3.0"/>
<circle cx="311.0" cy="177.5" r="3.0"/>
<circle cx="251.6" cy="229.0" r="3.0"/>
<circle cx="298.1" cy="194.4" r="3.0"/>
<circle cx="356.4" cy="138.3" r="3.0"/>
<circle cx="293.2" cy="184.1" r="3.0"/>
<circle cx="261.8" cy="220.4" r="3.0"/>
<circle cx="386.1" cy="121.2" r="3.0"/>
<circle cx="388.6" cy="104.6" r="3.0"/>
<circle cx="304.9" cy="176.7" r="3.0"/>
<circle cx="335.5" cy="162.5" r="3.0"/>
<circle cx="227.2" cy="277.1" r="3.0"/>
<circle cx="238.5" cy="250.9" r="3.0"/>
<circle cx="408.2" cy="91.0" r="3.0"/>
<circle cx="200.8" cy="280.8" r="3.0"/>
<circle cx="335.5" cy="164.4" r="3.0"/>
<circle cx="251.8" cy="250.1" r="3.0"/>
<circle cx="309.8" cy="197.9" r="3.0"/>
<circle cx="244.8" cy="232.2" r="3.0"/>
<circle cx="212.8" cy="267.7" r="3.0"/>
<circle cx="383.1" cy="116.3" r="3.0"/>
<circle cx="332.0" cy="162.9" r="3.0"/>
<circle cx="385.9" cy="120.8" r="3.0"/>
<circle cx="331.3" cy="166.8" r="3.0"/>
<circle cx="253.5" cy="232.8" r="3.0"/>
<circle cx="218.9" cy="279.7" r="3.0"/>
<circle cx="280.3" cy="210.2" r="3.0"/>
<circle cx="212.2" cy="260.1" r="3.0"/>
<circle cx="277.2" cy="212.3" r="3.0"/>
<circle cx="200.2" cy="280.2" r="3.0"/>
<circle cx="214.4" cy="268.9" r="3.0"/>
<circle cx="253.3" cy="252.3" r="3.0"/>
<circle cx="207.3" cy="281.5" r="3.0"/>
<circle cx="265.9" cy="209.6" r="3.0"/>
<circle cx="324.5" cy="171.0" r="3.0"/>
<circle cx="394.6" cy="111.9" r="3.0"/>
<circle cx="230.4" cy="251.5" r="3.0"/>
<circle cx="378.5" cy="129.4" r="3.0"/>
<circle cx="296.4" cy="189.9" r="3.0"/>
<circle cx="223.7" cy="268.0" r="3.0"/>
<circle cx="355.4" cy="137.0" r="3.0"/>
<circle cx="397.4" cy="100.0" r="3.0"/>
<circle cx="286.8" cy="212.0" r="3.0"/>
<circle cx="322.4" cy="156.7" r="3.0"/>
<circle cx="261.8" cy="246.6" r="3.0"/>
<circle cx="229.2" cy="255.3" r="3.0"/>
<circle cx="382.3" cy="102.2" r="3.0"/>
<circle cx="337.5" cy="146.2" r="3.0"/>
<circle cx="259.5" cy="219.6" r="3.0"/>
<circle cx="201.6" cy="264.4" r="3.0"/>
<circle cx="278.0" cy="226.8" r="3.0"/>
<circle cx="330.4" cy="190.3" r="3.0"/>
<circle cx="318.5" cy="167.9" r="3.0"/>
<circle cx="253.3" cy="239.0" r="3.0"/>
<circle cx="183.0" cy="315.4" r="3.0"/>
<circle cx="267.4" cy="216.7" r="3.0"/>
<circle cx="209.7" cy="280.7" r="3.0"/>
<circle cx="334.1" cy="170.5" r="3.0"/>
<circle cx="265.0" cy="207.1" r="3.0"/>
<circle cx="311.9" cy="183.9" r="3.0"/>
<circle cx="370.1" cy="139.2" r="3.0"/>
<circle cx="281.7" cy="209.4" r="3.0"/>
<circle cx="361.8" cy="138.5" r="3.0"/>
<circle cx="310.6" cy="194.3" r="3.0"/>
<circle cx="394.5" cy="118.7" r="3.0"/>
<circle cx="242.7" cy="243.4" r="3.0"/>
<circle cx="259.3" cy="209.6" r="3.0"/>
<circle cx="298.9" cy="189.2" r="3.0"/>
<circle cx="297.6" cy="193.2" r="3.0"/>
<circle cx="308.7" cy="184.0" r="3.0"/>
<circle cx="279.8" cy="211.7" r="3.0"/>
<circle cx="355.6" cy="135.8" r="3.0"/>
<circle cx="268.0" cy="221.0" r="3.0"/>
<circle cx="214.4" cy="257.9" r="3.0"/>
<circle cx="334.0" cy="183.3" r="3.0"/>
<circle cx="365.3" cy="130.7" r="3.0"/>
<circle cx="359.2" cy="134.9" r="3.0"/>
<circle cx="246.6" cy="253.8" r="3.0"/>
<circle cx="248.6" cy="237.1" r="3.0"/>
<circle cx="386.2" cy="117.2" r="3.0"/>
<circle cx="203.4" cy="299.4" r="3.0"/>
<circle cx="219.6" cy="257.6" r="3.0"/>
<circle cx="325.9" cy="168.7" r="3.0"/>
<circle cx="245.0" cy="245.2" r="3.0"/>
<circle cx="307.3" cy="194.1" r="3.0"/>
<circle cx="309.7" cy="175.3" r="3.0"/>
<circle cx="281.2" cy="203.7" r="3.0"/>
<circle cx="368.9" cy="115.6" r="3.0"/>
<circle cx="237.5" cy="257.1" r="3.0"/>
<circle cx="359.1" cy="135.7" r="3.0"/>
<circle cx="284.1" cy="200.4" r="3.0"/>
<circle cx="391.8" cy="113.0" r="3.0"/>
<circle cx="226.9" cy="269.0" r="3.0"/>
<circle cx="243.2" cy="236.3" r="3.0"/>
<circle cx="265.2" cy="204.0" r="3.0"/>
<circle cx="238.8" cy="238.3" r="3.0"/>
<circle cx="398.7" cy="108.8" r="3.0"/>
<circle cx="277.4" cy="214.2" r="3.0"/>
<circle cx="241.3" cy="237.4" r="3.0"/>
<circle cx="345.7" cy="153.8" r="3.0"/>
<circle cx="365.3" cy="130.2" r="3.0"/>
<circle cx="314.0" cy="179.1" r="3.0"/>
<circle cx="257.0" cy="222.4" r="3.0"/>
<circle cx="400.8" cy="92.9" r="3.0"/>
<circle cx="402.4" cy="103.1" r="3.0"/>
<circle cx="283.2" cy="211.4" r="3.0"/>
<circle cx="239.0" cy="247.3" r="3.0"/>
<circle cx="260.5" cy="211.3" r="3.0"/>
<circle cx="318.6" cy="181.1" r="3.0"/>
<circle cx="295.1" cy="206.0" r="3.0"/>
<circle cx="202.7" cy="276.6" r="3.0"/>
<circle cx="260.9" cy="225.7" r="3.0"/>
<circle cx="318.4" cy="173.8" r="3.0"/>
<circle cx="371.5" cy="125.1" r="3.0"/>
<circle cx="235.3" cy="250.6" r="3.0"/>
<circle cx="302.4" cy="198.8" r="3.0"/>
<circle cx="283.3" cy="212.1" r="3.0"/>
<circle cx="257.0" cy="212.9" r="3.0"/>
<circle cx="375.9" cy="121.7" r="3.0"/>
<circle cx="291.8" cy="196.7" r="3.0"/>
<circle cx="240.8" cy="234.9" r="3.0"/>
<circle cx="270.6" cy="192.7" r="3.0"/>
<circle cx="230.5" cy="263.1" r="3.0"/>
<circle cx="327.5" cy="170.5" r="3.0"/>
<circle cx="324.5" cy="173.4" r="3.0"/>
<circle cx="362.8" cy="133.0" r="3.0"/>
<circle cx="240.6" cy="257.7" r="3.0"/>
<circle cx="259.0" cy="245.5" r="3.0"/>
<circle cx="226.7" cy="269.9" r="3.0"/>
<circle cx="263.3" cy="231.8" r="3.0"/>
<circle cx="365.0" cy="148.2" r="3.0"/>
<circle cx="313.4" cy="181.4" r="3.0"/>
<circle cx="396.5" cy="111.2" r="3.0"/>
<circle cx="278.5" cy="198.5" r="3.0"/>
<circle cx="261.1" cy="223.3" r="3.0"/>
<circle cx="229.8" cy="265.5" r="3.0"/>
<circle cx="306.0" cy="195.2" r="3.0"/>
<circle cx="217.3" cy="273.6" r="3.0"/>
<circle cx="347.3" cy="148.8" r="3.0"/>
<circle cx="259.3" cy="211.9" r="3.0"/>
<circle cx="297.7" cy="188.3" r="3.0"/>
<circle cx="266.5" cy="230.5" r="3.0"/>
<circle cx="275.1" cy="197.8" r="3.0"/>
<circle cx="377.6" cy="125.8" r="3.0"/>
<circle cx="280.0" cy="201.9" r="3.0"/>
<circle cx="386.1" cy="111.3" r="3.0"/>
<circle cx="213.1" cy="261.7" r="3.0"/>
<circle cx="220.2" cy="276.8" r="3.0"/>
<circle cx="236.0" cy="251.8" r="3.0"/>
<circle cx="258.7" cy="228.9" r="3.0"/>
<circle cx="408.3" cy="113.8" r="3.0"/>
<circle cx="228.0" cy="251.2" r="3.0"/>
<circle cx="313.1" cy="182.1" r="3.0"/>
<circle cx="323.7" cy="177.3" r="3.0"/>
<circle cx="235.9" cy="252.4" r="3.0"/>
<circle cx="352.7" cy="145.9" r="3.0"/>
<circle cx="252.4" cy="221.0" r="3.0"/>
<circle cx="246.4" cy="233.8" r="3.0"/>
<circle cx="246.6" cy="233.0" r="3.0"/>
<circle cx="330.5" cy="153.2" r="3.0"/>
<circle cx="200.6" cy="286.1" r="3.0"/>
<circle cx="372.0" cy="114.9" r="3.0"/>
<circle cx="369.5" cy="138.5" r="3.0"/>
<circle cx="313.2" cy="188.9" r="3.0"/>
<circle cx="348.2" cy="146.6" r="3.0"/>
<circle cx="346.2" cy="150.9" r="3.0"/>
<circle cx="275.7" cy="217.4" r="3.0"/>
<circle cx="208.0" cy="267.1" r="3.0"/>
<circle cx="279.8" cy="207.7" r="3.0"/>
<circle cx="219.9" cy="275.4" r="3.0"/>
<circle cx="401.5" cy="101.3" r="3.0"/>
<circle cx="286.7" cy="218.0" r="3.0"/>
<circle cx="371.2" cy="134.3" r="3.0"/>
<circle cx="324.4" cy="166.6" r="3.0"/>
<circle cx="276.9" cy="209.1" r="3.0"/>
<circle cx="345.8" cy="159.3" r="3.0"/>
<circle cx="274.8" cy="213.0" r="3.0"/>
<circle cx="276.3" cy="221.9" r="3.0"/>
<circle cx="325.7" cy="146.6" r="3.0"/>
<circle cx="377.0" cy="119.7" r="3.0"/>
<circle cx="303.6" cy="172.2" r="3.0"/>
<circle cx="304.0" cy="192.0" r="3.0"/>
<circle cx="292.1" cy="197.7" r="3.0"/>
<circle cx="285.3" cy="217.0" r="3.0"/>
<circle cx="394.7" cy="101.4" r="3.0"/>
<circle cx="396.1" cy="117.5" r="3.0"/>
<circle cx="355.6" cy="151.8" r="3.0"/>
<circle cx="203.3" cy="275.3" r="3.0"/>
<circle cx="277.7" cy="226.3" r="3.0"/>
<circle cx="344.1" cy="162.1" r="3.0"/>
<circle cx="314.4" cy="168.8" r="3.0"/>
<circle cx="256.7" cy="234.5" r="3.0"/>
<circle cx="335.6" cy="160.8" r="3.0"/>
<circle cx="382.3" cy="122.0" r="3.0"/>
<circle cx="260.1" cy="227.3" r="3.0"/>
<circle cx="294.8" cy="207.3" r="3.0"/>
<circle cx="249.5" cy="235.9" r="3.0"/>
<circle cx="273.1" cy="219.8" r="3.0"/>
<circle cx="227.0" cy="256.4" r="3.0"/>
<circle cx="368.4" cy="126.0" r="3.0"/>
<circle cx="345.3" cy="133.5" r="3.0"/>
<circle cx="235.1" cy="254.8" r="3.0"/>
<circle cx="360.1" cy="137.1" r="3.0"/>
<circle cx="209.6" cy="277.1" r="3.0"/>
<circle cx="287.7" cy="202.7" r="3.0"/>
<circle cx="372.3" cy="121.6" r="3.0"/>
<circle cx="249.7" cy="227.4" r="3.0"/>
<circle cx="326.5" cy="167.3" r="3.0"/>
<circle cx="301.4" cy="174.3" r="3.0"/>
<circle cx="279.3" cy="201.8" r="3.0"/>
<circle cx="286.1" cy="204.6" r="3.0"/>
<circle cx="412.1" cy="92.0" r="3.0"/>
<circle cx="297.4" cy="193.8" r="3.0"/>
<circle cx="230.8" cy="243.0" r="3.0"/>
<circle cx="196.9" cy="282.8" r="3.0"/>
<circle cx="309.9" cy="171.3" r="3.0"/>
<circle cx="251.6" cy="245.5" r="3.0"/>
<circle cx="249.9" cy="236.7" r="3.0"/>
<circle cx="278.4" cy="210.1" r="3.0"/>
<circle cx="210.3" cy="279.9" r="3.0"/>
<circle cx="242.5" cy="255.9" r="3.0"/>
<circle cx="220.4" cy="254.4" r="3.0"/>
<circle cx="289.1" cy="204.6" r="3.0"/>
<circle cx="303.5" cy="178.5" r="3.0"/>
<circle cx="260.2" cy="219.1" r="3.0"/>
<circle cx="361.2" cy="133.0" r="3.0"/>
<circle cx="365.3" cy="127.0" r="3.0"/>
<circle cx="269.3" cy="226.9" r="3.0"/>
<circle cx="321.9" cy="173.8" r="3.0"/>
<circle cx="331.5" cy="151.9" r="3.0"/>
<circle cx="399.1" cy="99.7" r="3.0"/>
<circle cx="405.1" cy="95.3" r="3.0"/>
<circle cx="353.9" cy="153.6" r="3.0"/>
<circle cx="227.5" cy="269.7" r="3.0"/>
<circle cx="324.0" cy="192.6" r="3.0"/>
<circle cx="210.7" cy="259.7" r="3.0"/>
<circle cx="287.8" cy="199.9" r="3.0"/>
<circle cx="359.9" cy="156.3" r="3.0"/>
<circle cx="373.5" cy="127.5" r="3.0"/>
<circle cx="272.4" cy="220.7" r="3.0"/>
<circle cx="255.3" cy="233.7" r="3.0"/>
<circle cx="352.3" cy="142.8" r="3.0"/>
<circle cx="393.2" cy="125.3" r="3.0"/>
<circle cx="375.2" cy="115.5" r="3.0"/>
<circle cx="344.1" cy="171.7" r="3.0"/>
<circle cx="299.0" cy="191.3" r="3.0"/>
<circle cx="263.1" cy="245.1" r="3.0"/>
<circle cx="358.0" cy="134.1" r="3.0"/>
<circle cx="337.7" cy="157.0" r="3.0"/>
<circle cx="346.8" cy="137.5" r="3.0"/>
<circle cx="304.8" cy="186.3" r="3.0"/>
<circle cx="408.1" cy="100.6" r="3.0"/>
<circle cx="257.6" cy="232.8" r="3.0"/>
<circle cx="404.8" cy="101.5" r="3.0"/>
<circle cx="371.1" cy="125.2" r="3.0"/>
<circle cx="314.3" cy="185.1" r="3.0"/>
<circle cx="228.4" cy="264.1" r="3.0"/>
<circle cx="259.2" cy="254.7" r="3.0"/>
<circle cx="402.7" cy="96.8" r="3.0"/>
<circle cx="193.0" cy="299.4" r="3.0"/>
<circle cx="270.3" cy="234.8" r="3.0"/>
<circle cx="269.4" cy="236.0" r="3.0"/>
<circle cx="370.6" cy="131.8" r="3.0"/>
<circle cx="324.2" cy="171.4" r="3.0"/>
<circle cx="247.5" cy="243.9" r="3.0"/>
<circle cx="392.7" cy="116.4" r="3.0"/>
<circle cx="360.7" cy="135.2" r="3.0"/>
<circle cx="254.9" cy="235.2" r="3.0"/>
<circle cx="364.5" cy="143.4" r="3.0"/>
<circle cx="396.1" cy="115.3" r="3.0"/>
<circle cx="407.1" cy="99.2" r="3.0"/>
<circle cx="408.8" cy="90.4" r="3.0"/>
<circle cx="311.4" cy="188.3" r="3.0"/>
<circle cx="217.1" cy="266.2" r="3.0"/>
<circle cx="307.9" cy="176.5" r="3.0"/>
<circle cx="228.6" cy="261.4" r="3.0"/>
<circle cx="312.0" cy="175.5" r="3.0"/>
<circle cx="209.9" cy="267.9" r="3.0"/>
<circle cx="347.8" cy="147.7" r="3.0"/>
<circle cx="206.5" cy="262.4" r="3.0"/>
<circle cx="254.5" cy="232.3" r="3.0"/>
<circle cx="381.6" cy="123.2" r="3.0"/>
<circle cx="216.0" cy="266.5" r="3.0"/>
<circle cx="238.5" cy="245.3" r="3.0"/>
<circle cx="273.5" cy="213.1" r="3.0"/>
<circle cx="269.2" cy="230.5" r="3.0"/>
<circle cx="371.9" cy="147.8" r="3.0"/>
<circle cx="210.1" cy="266.4" r="3.0"/>
<circle cx="286.0" cy="189.9" r="3.0"/>
<circle cx="288.7" cy="212.1" r="3.0"/>
<circle cx="366.5" cy="121.1" r="3.0"/>
<circle cx="394.1" cy="101.9" r="3.0"/>
<circle cx="198.7" cy="290.0" r="3.0"/>
<circle cx="411.3" cy="93.3" r="3.0"/>
<circle cx="339.7" cy="147.6" r="3.0"/>
<circle cx="392.1" cy="116.5" r="3.0"/>
<circle cx="410.7" cy="84.3" r="3.0"/>
<circle cx="289.0" cy="216.1" r="3.0"/>
<circle cx="306.2" cy="177.0" r="3.0"/>
<circle cx="296.0" cy="197.0" r="3.0"/>
<circle cx="412.6" cy="90.8" r="3.0"/>
<circle cx="303.0" cy="202.1" r="3.0"/>
<circle cx="340.3" cy="146.3" r="3.0"/>
<circle cx="287.4" cy="194.7" r="3.0"/>
<circle cx="351.8" cy="151.6" r="3.0"/>
<circle cx="346.8" cy="164.1" r="3.0"/>
<circle cx="353.0" cy="143.6" r="3.0"/>
<circle cx="319.2" cy="176.8" r="3.0"/>
<circle cx="281.5" cy="217.7" r="3.0"/>
<circle cx="262.4" cy="225.3" r="3.0"/>
<circle cx="312.5" cy="187.2" r="3.0"/>
<circle cx="313.4" cy="163.8" r="3.0"/>
<circle cx="327.1" cy="159.0" r="3.0"/>
<circle cx="205.0" cy="285.0" r="3.0"/>
<circle cx="215.2" cy="271.1" r="3.0"/>
<circle cx="291.7" cy="189.5" r="3.0"/>
<circle cx="356.8" cy="135.7" r="3.0"/>
<circle cx="220.8" cy="274.6" r="3.0"/>
<circle cx="361.3" cy="124.4" r="3.0"/>
<circle cx="402.0" cy="96.6" r="3.0"/>
<circle cx="280.3" cy="222.7" r="3.0"/>
<circle cx="316.5" cy="183.3" r="3.0"/>
<circle cx="224.9" cy="256.6" r="3.0"/>
<circle cx="364.6" cy="132.2" r="3.0"/>
<circle cx="322.2" cy="175.8" r="3.0"/>
<circle cx="392.1" cy="98.3" r="3.0"/>
<circle cx="311.5" cy="196.2" r="3.0"/>
<circle cx="239.4" cy="236.9" r="3.0"/>
<circle cx="218.9" cy="264.3" r="3.0"/>
<circle cx="198.2" cy="290.7" r="3.0"/>
<circle cx="389.4" cy="109.5" r="3.0"/>
<circle cx="395.9" cy="118.3" r="3.0"/>
<circle cx="301.9" cy="188.3" r="3.0"/>
<circle cx="239.2" cy="247.2" r="3.0"/>
<circle cx="257.9" cy="246.7" r="3.0"/>
<circle cx="385.2" cy="110.8" r="3.0"/>
<circle cx="262.5" cy="220.5" r="3.0"/>
<circle cx="292.1" cy="209.2" r="3.0"/>
<circle cx="277.5" cy="201.8" r="3.0"/>
<circle cx="391.1" cy="110.9" r="3.0"/>
<circle cx="318.7" cy="180.8" r="3.0"/>
<circle cx="389.5" cy="114.6" r="3.0"/>
<circle cx="302.2" cy="197.5" r="3.0"/>
<circle cx="241.7" cy="244.8" r="3.0"/>
<circle cx="280.2" cy="214.7" r="3.0"/>
<circle cx="348.9" cy="137.2" r="3.0"/>
<circle cx="246.5" cy="226.7" r="3.0"/>
<circle cx="345.1" cy="171.3" r="3.0"/>
<circle cx="273.0" cy="214.6" r="3.0"/>
<circle cx="406.1" cy="110.5" r="3.0"/>
<circle cx="382.0" cy="108.9" r="3.0"/>
<circle cx="401.1" cy="101.7" r="3.0"/>
<circle cx="399.1" cy="108.5" r="3.0"/>
<circle cx="359.0" cy="159.0" r="3.0"/>
<circle cx="249.1" cy="252.8" r="3.0"/>
<circle cx="395.4" cy="102.3" r="3.0"/>
<circle cx="219.4" cy="278.7" r="3.0"/>
<circle cx="386.7" cy="121.3" r="3.0"/>
<circle cx="338.2" cy="161.9" r="3.0"/>
<circle cx="384.9" cy="132.6" r="3.0"/>
<circle cx="233.0" cy="254.7" r="3.0"/>
<circle cx="252.0" cy="234.8" r="3.0"/>
<circle cx="213.6" cy="253.1" r="3.0"/>
<circle cx="196.5" cy="292.6" r="3.0"/>
<circle cx="253.5" cy="219.6" r="3.0"/>
<circle cx="292.2" cy="208.3" r="3.0"/>
<circle cx="251.1" cy="219.8" r="3.0"/>
<circle cx="224.7" cy="255.5" r="3.0"/>
<circle cx="216.5" cy="283.8" r="3.0"/>
<circle cx="382.9" cy="116.9" r="3.0"/>
<circle cx="202.0" cy="278.0" r="3.0"/>
<circle cx="360.6" cy="145.0" r="3.0"/>
<circle cx="260.6" cy="210.8" r="3.0"/>
<circle cx="331.4" cy="172.2" r="3.0"/>
<circle cx="403.6" cy="102.8" r="3.0"/>
<circle cx="271.2" cy="225.4" r="3.0"/>
<circle cx="327.1" cy="160.0" r="3.0"/>
<circle cx="375.9" cy="121.0" r="3.0"/>
<circle cx="240.9" cy="229.4" r="3.0"/>
<circle cx="330.1" cy="183.0" r="3.0"/>
<circle cx="294.3" cy="196.1" r="3.0"/>
<circle cx="353.6" cy="130.9" r="3.0"/>
<circle cx="367.4" cy="128.0" r="3.0"/>
<circle cx="334.4" cy="146.0" r="3.0"/>
<circle cx="254.6" cy="217.5" r="3.0"/>
<circle cx="355.7" cy="138.4" r="3.0"/>
<circle cx="274.2" cy="211.0" r="3.0"/>
<circle cx="268.6" cy="213.1" r="3.0"/>
<circle cx="314.0" cy="193.9" r="3.0"/>
<circle cx="201.5" cy="276.2" r="3.0"/>
<circle cx="363.9" cy="139.7" r="3.0"/>
<circle cx="329.8" cy="157.0" r="3.0"/>
<circle cx="349.5" cy="148.2" r="3.0"/>
<circle cx="362.2" cy="118.7" r="3.0"/>
<circle cx="382.3" cy="113.3" r="3.0"/>
<circle cx="381.3" cy="108.7" r="3.0"/>
<circle cx="255.2" cy="244.6" r="3.0"/>
<circle cx="315.3" cy="175.0" r="3.0"/>
<circle cx="309.3" cy="173.8" r="3.0"/>
<circle cx="353.1" cy="154.2" r="3.0"/>
<circle cx="373.2" cy="141.2" r="3.0"/>
<circle cx="274.5" cy="213.9" r="3.0"/>
<circle cx="335.6" cy="155.1" r="3.0"/>
<circle cx="327.2" cy="171.7" r="3.0"/>
<circle cx="313.4" cy="183.1" r="3.0"/>
<circle cx="389.7" cy="104.3" r="3.0"/>
<circle cx="318.1" cy="165.5" r="3.0"/>
<circle cx="221.4" cy="291.9" r="3.0"/>
<circle cx="246.5" cy="234.6" r="3.0"/>
<circle cx="200.3" cy="288.7" r="3.0"/>
<circle cx="258.1" cy="227.1" r="3.0"/>
<circle cx="226.4" cy="246.5" r="3.0"/>
<circle cx="313.0" cy="183.2" r="3.0"/>
<circle cx="360.0" cy="133.7" r="3.0"/>
<circle cx="252.5" cy="229.4" r="3.0"/>
<circle cx="315.6" cy="192.1" r="3.0"/>
<circle cx="251.2" cy="237.2" r="3.0"/>
<circle cx="197.4" cy="287.6" r="3.0"/>
<circle cx="276.6" cy="189.3" r="3.0"/>
<circle cx="340.6" cy="158.4" r="3.0"/>
<circle cx="322.1" cy="171.4" r="3.0"/>
<circle cx="316.5" cy="169.3" r="3.0"/>
<circle cx="286.7" cy="199.1" r="3.0"/>
<circle cx="218.7" cy="271.1" r="3.0"/>
<circle cx="403.2" cy="94.2" r="3.0"/>
<circle cx="228.7" cy="256.4" r="3.0"/>
<circle cx="218.1" cy="250.0" r="3.0"/>
<circle cx="349.2" cy="140.6" r="3.0"/>
<circle cx="363.6" cy="129.2" r="3.0"/>
<circle cx="301.5" cy="189.0" r="3.0"/>
<circle cx="222.3" cy="286.1" r="3.0"/>
<circle cx="330.1" cy="194.9" r="3.0"/>
<circle cx="296.3" cy="181.0" r="3.0"/>
<circle cx="364.4" cy="147.5" r="3.0"/>
<circle cx="272.8" cy="226.6" r="3.0"/>
<circle cx="304.8" cy="201.4" r="3.0"/>
<circle cx="355.7" cy="152.2" r="3.0"/>
<circle cx="344.5" cy="151.6" r="3.0"/>
<circle cx="340.1" cy="161.1" r="3.0"/>
<circle cx="238.3" cy="258.1" r="3.0"/>
<circle cx="319.3" cy="164.2" r="3.0"/>
<circle cx="380.8" cy="120.0" r="3.0"/>
<circle cx="405.8" cy="101.7" r="3.0"/>
<circle cx="219.4" cy="282.4" r="3.0"/>
<circle cx="354.7" cy="151.6" r="3.0"/>
<circle cx="237.8" cy="239.5" r="3.0"/>
<circle cx="251.0" cy="241.2" r="3.0"/>
<circle cx="309.9" cy="182.3" r="3.0"/>
<circle cx="398.2" cy="103.7" r="3.0"/>
<circle cx="257.1" cy="230.9" r="3.0"/>
<circle cx="220.1" cy="262.1" r="3.0"/>
<circle cx="263.5" cy="231.8" r="3.0"/>
<circle cx="261.1" cy="233.0" r="3.0"/>
<circle cx="389.0" cy="114.1" r="3.0"/>
<circle cx="339.3" cy="161.8" r="3.0"/>
<circle cx="259.5" cy="219.1" r="3.0"/>
<circle cx="288.5" cy="207.7" r="3.0"/>
<circle cx="315.3" cy="183.4" r="3.0"/>
<circle cx="357.1" cy="139.0" r="3.0"/>
<circle cx="201.6" cy="285.4" r="3.0"/>
<circle cx="378.5" cy="116.1" r="3.0"/>
<circle cx="351.7" cy="148.1" r="3.0"/>
<circle cx="202.5" cy="275.4" r="3.0"/>
<circle cx="346.3" cy="168.5" r="3.0"/>
<circle cx="272.4" cy="211.3" r="3.0"/>
<circle cx="209.4" cy="281.0" r="3.0"/>
<circle cx="348.6" cy="147.3" r="3.0"/>
<circle cx="336.5" cy="168.6" r="3.0"/>
<circle cx="330.0" cy="159.4" r="3.0"/>
<circle cx="261.8" cy="227.6" r="3.0"/>
<circle cx="192.0" cy="289.2" r="3.0"/>
<circle cx="200.8" cy="283.5" r="3.0"/>
<circle cx="231.5" cy="258.1" r="3.0"/>
<circle cx="255.5" cy="255.9" r="3.0"/>
<circle cx="278.1" cy="227.6" r="3.0"/>
<circle cx="261.9" cy="217.5" r="3.0"/>
<circle cx="396.4" cy="108.9" r="3.0"/>
<circle cx="302.4" cy="201.3" r="3.0"/>
<circle cx="385.2" cy="127.7" r="3.0"/>
<circle cx="216.3" cy="276.3" r="3.0"/>
<circle cx="367.8" cy="133.7" r="3.0"/>
<circle cx="364.7" cy="136.5" r="3.0"/>
<circle cx="334.8" cy="168.3" r="3.0"/>
<circle cx="289.7" cy="197.7" r="3.0"/>
<circle cx="391.5" cy="117.3" r="3.0"/>
<circle cx="347.8" cy="156.3" r="3.0"/>
<circle cx="294.1" cy="196.8" r="3.0"/>
<circle cx="390.0" cy="101.7" r="3.0"/>
<circle cx="411.9" cy="96.2" r="3.0"/>
<circle cx="340.0" cy="151.7" r="3.0"/>
<circle cx="267.2" cy="224.7" r="3.0"/>
<circle cx="221.3" cy="261.9" r="3.0"/>
<circle cx="262.6" cy="227.5" r="3.0"/>
<circle cx="399.1" cy="102.8" r="3.0"/>
<circle cx="317.9" cy="186.4" r="3.0"/>
<circle cx="252.8" cy="226.3" r="3.0"/>
<circle cx="376.1" cy="136.1" r="3.0"/>
<circle cx="285.3" cy="207.8" r="3.0"/>
<circle cx="346.3" cy="147.5" r="3.0"/>
<circle cx="411.5" cy="102.0" r="3.0"/>
<circle cx="339.3" cy="180.2" r="3.0"/>
<circle cx="353.5" cy="135.3" r="3.0"/>
<circle cx="282.5" cy="201.8" r="3.0"/>
<circle cx="380.2" cy="122.6" r="3.0"/>
<circle cx="274.4" cy="221.5" r="3.0"/>
<circle cx="417.8" cy="91.0" r="3.0"/>
<circle cx="206.4" cy="284.7" r="3.0"/>
<circle cx="299.9" cy="188.2" r="3.0"/>
<circle cx="352.3" cy="157.5" r="3.0"/>
<circle cx="306.3" cy="188.1" r="3.0"/>
<circle cx="347.6" cy="172.2" r="3.0"/>
<circle cx="321.4" cy="167.2" r="3.0"/>
<circle cx="341.6" cy="155.0" r="3.0"/>
<circle cx="317.2" cy="179.2" r="3.0"/>
<circle cx="291.2" cy="196.6" r="3.0"/>
<circle cx="263.9" cy="234.7" r="3.0"/>
<circle cx="312.5" cy="168.8" r="3.0"/>
<circle cx="215.9" cy="264.2" r="3.0"/>
<circle cx="252.7" cy="255.6" r="3.0"/>
<circle cx="389.1" cy="112.4" r="3.0"/>
<circle cx="218.9" cy="266.1" r="3.0"/>
<circle cx="300.1" cy="206.2" r="3.0"/>
<circle cx="388.4" cy="108.8" r="3.0"/>
<circle cx="370.2" cy="114.8" r="3.0"/>
<circle cx="287.6" cy="198.8" r="3.0"/>
<circle cx="287.8" cy="191.1" r="3.0"/>
<circle cx="261.5" cy="243.8" r="3.0"/>
<circle cx="245.8" cy="245.3" r="3.0"/>
<circle cx="263.5" cy="220.3" r="3.0"/>
<circle cx="390.0" cy="120.2" r="3.0"/>
<circle cx="378.0" cy="130.8" r="3.0"/>
<circle cx="315.3" cy="164.7" r="3.0"/>
<circle cx="280.2" cy="213.9" r="3.0"/>
<circle cx="335.2" cy="152.1" r="3.0"/>
<circle cx="346.6" cy="159.4" r="3.0"/>
<circle cx="369.5" cy="141.4" r="3.0"/>
<circle cx="290.7" cy="209.8" r="3.0"/>
<circle cx="363.2" cy="138.3" r="3.0"/>
<circle cx="402.8" cy="100.6" r="3.0"/>
<circle cx="341.4" cy="169.0" r="3.0"/>
<circle cx="359.5" cy="134.6" r="3.0"/>
<circle cx="212.6" cy="292.4" r="3.0"/>
<circle cx="248.2" cy="235.9" r="3.0"/>
<circle cx="269.3" cy="218.6" r="3.0"/>
<circle cx="275.9" cy="197.8" r="3.0"/>
<circle cx="359.5" cy="148.3" r="3.0"/>
<circle cx="231.1" cy="251.3" r="3.0"/>
<circle cx="246.8" cy="238.9" r="3.0"/>
<circle cx="297.7" cy="190.4" r="3.0"/>
<circle cx="376.3" cy="129.5" r="3.0"/>
<circle cx="293.2" cy="187.7" r="3.0"/>
<circle cx="365.2" cy="123.7" r="3.0"/>
<circle cx="266.6" cy="221.0" r="3.0"/>
<circle cx="281.8" cy="209.3" r="3.0"/>
<circle cx="181.0" cy="300.9" r="3.0"/>
<circle cx="229.4" cy="251.5" r="3.0"/>
<circle cx="266.8" cy="245.9" r="3.0"/>
<circle cx="266.6" cy="214.9" r="3.0"/>
<circle cx="320.2" cy="172.3" r="3.0"/>
<circle cx="185.8" cy="300.4" r="3.0"/>
<circle cx="361.1" cy="149.4" r="3.0"/>
<circle cx="398.1" cy="107.9" r="3.0"/>
<circle cx="343.3" cy="126.5" r="3.0"/>
<circle cx="260.3" cy="242.6" r="3.0"/>
<circle cx="381.3" cy="118.0" r="3.0"/>
<circle cx="181.9" cy="300.4" r="3.0"/>
<circle cx="266.6" cy="217.8" r="3.0"/>
<circle cx="276.5" cy="209.1" r="3.0"/>
<circle cx="202.8" cy="289.6" r="3.0"/>
<circle cx="335.8" cy="164.3" r="3.0"/>
<circle cx="296.7" cy="198.3" r="3.0"/>
<circle cx="270.7" cy="216.1" r="3.0"/>
<circle cx="274.9" cy="220.7" r="3.0"/>
<circle cx="290.6" cy="207.0" r="3.0"/>
<circle cx="249.8" cy="235.7" r="3.0"/>
<circle cx="248.3" cy="229.2" r="3.0"/>
<circle cx="328.3" cy="183.0" r="3.0"/>
<circle cx="235.1" cy="260.5" r="3.0"/>
<circle cx="194.9" cy="280.8" r="3.0"/>
<circle cx="274.3" cy="217.9" r="3.0"/>
<circle cx="229.5" cy="262.6" r="3.0"/>
<circle cx="303.6" cy="199.4" r="3.0"/>
<circle cx="400.3" cy="110.1" r="3.0"/>
<circle cx="344.9" cy="149.8" r="3.0"/>
<circle cx="281.7" cy="212.9" r="3.0"/>
<circle cx="241.2" cy="265.3" r="3.0"/>
<circle cx="355.5" cy="144.2" r="3.0"/>
<circle cx="315.2" cy="187.4" r="3.0"/>
<circle cx="250.1" cy="248.8" r="3.0"/>
<circle cx="383.6" cy="122.3" r="3.0"/>
<circle cx="412.1" cy="90.2" r="3.0"/>
<circle cx="210.2" cy="267.1" r="3.0"/>
<circle cx="267.3" cy="225.7" r="3.0"/>
<circle cx="207.1" cy="279.6" r="3.0"/>
<circle cx="231.1" cy="254.4" r="3.0"/>
<circle cx="354.3" cy="129.2" r="3.0"/>
<circle cx="352.6" cy="134.5" r="3.0"/>
<circle cx="333.7" cy="161.9" r="3.0"/>
<circle cx="266.7" cy="238.2" r="3.0"/>
<circle cx="337.0" cy="152.6" r="3.0"/>
<circle cx="330.4" cy="161.9" r="3.0"/>
<circle cx="352.6" cy="136.8" r="3.0"/>
<circle cx="281.1" cy="227.2" r="3.0"/>
<circle cx="332.3" cy="172.5" r="3.0"/>
<circle cx="409.2" cy="88.0" r="3.0"/>
<circle cx="207.9" cy="274.6" r="3.0"/>
<circle cx="390.8" cy="104.9" r="3.0"/>
<circle cx="384.2" cy="117.9" r="3.0"/>
<circle cx="298.2" cy="191.6" r="3.0"/>
<circle cx="349.1" cy="163.5" r="3.0"/>
<circle cx="306.5" cy="175.0" r="3.0"/>
<circle cx="317.6" cy="169.8" r="3.0"/>
<circle cx="368.6" cy="128.8" r="3.0"/>
<circle cx="300.3" cy="188.4" r="3.0"/>
<circle cx="349.4" cy="149.5" r="3.0"/>
<circle cx="381.2" cy="120.1" r="3.0"/>
<circle cx="284.4" cy="213.1" r="3.0"/>
<circle cx="278.1" cy="193.9" r="3.0"/>
<circle cx="356.0" cy="140.4" r="3.0"/>
<circle cx="256.2" cy="230.8" r="3.0"/>
<circle cx="251.8" cy="255.9" r="3.0"/>
<circle cx="377.8" cy="125.4" r="3.0"/>
<circle cx="331.8" cy="150.7" r="3.0"/>
<circle cx="363.6" cy="135.9" r="3.0"/>
<circle cx="368.2" cy="123.2" r="3.0"/>
<circle cx="338.7" cy="160.3" r="3.0"/>
<circle cx="259.4" cy="218.3" r="3.0"/>
<circle cx="282.7" cy="213.8" r="3.0"/>
<circle cx="267.8" cy="218.6" r="3.0"/>
<circle cx="235.7" cy="239.7" r="3.0"/>
<circle cx="348.5" cy="144.7" r="3.0"/>
<circle cx="220.6" cy="279.9" r="3.0"/>
<circle cx="353.9" cy="130.1" r="3.0"/>
<circle cx="332.8" cy="159.4" r="3.0"/>
<circle cx="387.5" cy="119.2" r="3.0"/>
<circle cx="278.2" cy="220.4" r="3.0"/>
<circle cx="380.2" cy="115.0" r="3.0"/>
<circle cx="369.5" cy="135.1" r="3.0"/>
<circle cx="240.3" cy="256.4" r="3.0"/>
<circle cx="343.2" cy="149.1" r="3.0"/>
<circle cx="274.9" cy="223.7" r="3.0"/>
<circle cx="199.0" cy="274.6" r="3.0"/>
<circle cx="306.4" cy="195.7" r="3.0"/>
<circle cx="228.7" cy="261.4" r="3.0"/>
<circle cx="278.7" cy="200.2" r="3.0"/>
<circle cx="194.8" cy="276.1" r="3.0"/>
<circle cx="218.0" cy="279.4" r="3.0"/>
<circle cx="252.8" cy="228.2" r="3.0"/>
<circle cx="286.0" cy="219.7" r="3.0"/>
<circle cx="355.8" cy="148.2" r="3.0"/>
<circle cx="393.1" cy="112.7" r="3.0"/>
<circle cx="292.7" cy="201.4" r="3.0"/>
<circle cx="219.8" cy="270.5" r="3.0"/>
<circle cx="306.6" cy="185.6" r="3.0"/>
<circle cx="309.2" cy="172.0" r="3.0"/>
<circle cx="268.8" cy="221.7" r="3.0"/>
<circle cx="254.7" cy="235.7" r="3.0"/>
<circle cx="390.0" cy="111.3" r="3.0"/>
<circle cx="253.7" cy="223.8" r="3.0"/>
<circle cx="193.5" cy="282.7" r="3.0"/>
<circle cx="380.9" cy="115.7" r="3.0"/>
<circle cx="359.9" cy="137.4" r="3.0"/>
<circle cx="379.7" cy="114.6" r="3.0"/>
<circle cx="347.5" cy="161.3" r="3.0"/>
<circle cx="370.4" cy="125.6" r="3.0"/>
<circle cx="349.2" cy="150.9" r="3.0"/>
<circle cx="320.2" cy="164.1" r="3.0"/>
<circle cx="271.2" cy="220.7" r="3.0"/>
<circle cx="310.7" cy="185.2" r="3.0"/>
<circle cx="295.3" cy="197.4" r="3.0"/>
<circle cx="202.6" cy="273.1" r="3.0"/>
<circle cx="279.2" cy="217.2" r="3.0"/>
<circle cx="217.5" cy="263.1" r="3.0"/>
<circle cx="276.4" cy="220.0" r="3.0"/>
<circle cx="375.6" cy="121.1" r="3.0"/>
<circle cx="319.6" cy="171.6" r="3.0"/>
<circle cx="258.5" cy="238.0" r="3.0"/>
<circle cx="282.9" cy="207.3" r="3.0"/>
<circle cx="273.5" cy="216.1" r="3.0"/>
<circle cx="291.3" cy="189.3" r="3.0"/>
<circle cx="365.8" cy="138.0" r="3.0"/>
<circle cx="283.7" cy="210.5" r="3.0"/>
<circle cx="249.0" cy="246.6" r="3.0"/>
<circle cx="281.4" cy="215.2" r="3.0"/>
<circle cx="313.7" cy="185.1" r="3.0"/>
<circle cx="394.1" cy="114.9" r="3.0"/>
<circle cx="359.4" cy="139.7" r="3.0"/>
<circle cx="390.2" cy="106.6" r="3.0"/>
<circle cx="305.2" cy="181.8" r="3.0"/>
<circle cx="297.2" cy="190.9" r="3.0"/>
<circle cx="261.5" cy="221.5" r="3.0"/>
<circle cx="229.9" cy="247.6" r="3.0"/>
<circle cx="202.2" cy="287.0" r="3.0"/>
<circle cx="214.3" cy="252.7" r="3.0"/>
<circle cx="256.7" cy="239.3" r="3.0"/>
<circle cx="242.0" cy="240.4" r="3.0"/>
<circle cx="317.2" cy="180.8" r="3.0"/>
<circle cx="325.8" cy="165.5" r="3.0"/>
<circle cx="252.3" cy="231.4" r="3.0"/>
<circle cx="347.3" cy="129.2" r="3.0"/>
<circle cx="244.8" cy="231.4" r="3.0"/>
<circle cx="304.6" cy="184.6" r="3.0"/>
<circle cx="242.0" cy="242.2" r="3.0"/>
<circle cx="365.9" cy="136.1" r="3.0"/>
<circle cx="392.4" cy="108.1" r="3.0"/>
<circle cx="336.9" cy="167.5" r="3.0"/>
<circle cx="297.2" cy="208.7" r="3.0"/>
<circle cx="295.0" cy="189.1" r="3.0"/>
<circle cx="296.1" cy="179.7" r="3.0"/>
<circle cx="297.1" cy="187.5" r="3.0"/>
<circle cx="263.6" cy="230.9" r="3.0"/>
<circle cx="351.1" cy="156.5" r="3.0"/>
<circle cx="366.5" cy="130.7" r="3.0"/>
<circle cx="305.7" cy="191.8" r="3.0"/>
<circle cx="301.2" cy="187.5" r="3.0"/>
<circle cx="292.9" cy="172.7" r="3.0"/>
<circle cx="206.5" cy="267.9" r="3.0"/>
<circle cx="406.9" cy="95.1" r="3.0"/>
<circle cx="278.7" cy="225.6" r="3.0"/>
<circle cx="354.6" cy="132.7" r="3.0"/>
<circle cx="369.8" cy="126.2" r="3.0"/>
<circle cx="282.1" cy="206.4" r="3.0"/>
<circle cx="400.6" cy="100.7" r="3.0"/>
<circle cx="230.4" cy="255.3" r="3.0"/>
<circle cx="409.8" cy="107.3" r="3.0"/>
<circle cx="257.6" cy="216.1" r="3.0"/>
<circle cx="392.9" cy="115.5" r="3.0"/>
<circle cx="321.5" cy="175.1" r="3.0"/>
<circle cx="225.0" cy="259.7" r="3.0"/>
<circle cx="201.4" cy="277.5" r="3.0"/>
<circle cx="256.0" cy="225.6" r="3.0"/>
<circle cx="359.0" cy="153.1" r="3.0"/>
<circle cx="247.4" cy="252.9" r="3.0"/>
<circle cx="222.1" cy="258.6" r="3.0"/>
<circle cx="349.6" cy="141.3" r="3.0"/>
<circle cx="316.4" cy="177.6" r="3.0"/>
<circle cx="205.9" cy="282.2" r="3.0"/>
<circle cx="293.2" cy="202.7" r="3.0"/>
<circle cx="359.2" cy="134.3" r="3.0"/>
<circle cx="313.4" cy="165.9" r="3.0"/>
<circle cx="400.6" cy="91.8" r="3.0"/>
<circle cx="361.9" cy="131.3" r="3.0"/>
<circle cx="217.0" cy="279.0" r="3.0"/>
<circle cx="371.3" cy="122.5" r="3.0"/>
<circle cx="211.6" cy="275.4" r="3.0"/>
<circle cx="270.4" cy="213.1" r="3.0"/>
<circle cx="371.7" cy="128.0" r="3.0"/>
<circle cx="258.4" cy="239.7" r="3.0"/>
<circle cx="291.2" cy="206.0" r="3.0"/>
<circle cx="276.9" cy="211.6" r="3.0"/>
<circle cx="217.7" cy="269.9" r="3.0"/>
<circle cx="302.7" cy="178.5" r="3.0"/>
<circle cx="279.9" cy="194.2" r="3.0"/>
<circle cx="386.1" cy="116.7" r="3.0"/>
<circle cx="300.5" cy="181.6" r="3.0"/>
<circle cx="297.3" cy="192.1" r="3.0"/>
<circle cx="277.6" cy="207.1" r="3.0"/>
<circle cx="330.2" cy="162.9" r="3.0"/>
<circle cx="371.6" cy="142.2" r="3.0"/>
<circle cx="317.6" cy="180.8" r="3.0"/>
<circle cx="365.0" cy="151.4" r="3.0"/>
<circle cx="235.9" cy="251.8" r="3.0"/>
<circle cx="300.7" cy="190.3" r="3.0"/>
<circle cx="381.4" cy="118.3" r="3.0"/>
<circle cx="301.8" cy="212.7" r="3.0"/>
<circle cx="201.9" cy="288.4" r="3.0"/>
<circle cx="284.1" cy="221.8" r="3.0"/>
<circle cx="243.6" cy="256.7" r="3.0"/>
<circle cx="311.6" cy="185.5" r="3.0"/>
<circle cx="301.0" cy="188.9" r="3.0"/>
<circle cx="262.0" cy="217.8" r="3.0"/>
<circle cx="398.4" cy="104.3" r="3.0"/>
<circle cx="343.5" cy="163.3" r="3.0"/>
<circle cx="228.0" cy="266.1" r="3.0"/>
<circle cx="341.8" cy="149.2" r="3.0"/>
<circle cx="314.8" cy="171.5" r="3.0"/>
<circle cx="253.1" cy="236.7" r="3.0"/>
<circle cx="222.2" cy="268.9" r="3.0"/>
<circle cx="229.2" cy="268.4" r="3.0"/>
<circle cx="383.9" cy="136.4" r="3.0"/>
<circle cx="297.3" cy="181.3" r="3.0"/>
<circle cx="344.6" cy="140.8" r="3.0"/>
<circle cx="355.1" cy="133.2" r="3.0"/>
<circle cx="238.8" cy="252.2" r="3.0"/>
<circle cx="247.6" cy="248.7" r="3.0"/>
<circle cx="364.0" cy="137.2" r="3.0"/>
<circle cx="260.9" cy="228.6" r="3.0"/>
<circle cx="271.8" cy="210.4" r="3.0"/>
<circle cx="370.8" cy="126.2" r="3.0"/>
<circle cx="259.8" cy="223.6" r="3.0"/>
<circle cx="220.3" cy="269.6" r="3.0"/>
<circle cx="331.9" cy="153.6" r="3.0"/>
<circle cx="338.6" cy="160.6" r="3.0"/>
<circle cx="224.5" cy="262.3" r="3.0"/>
<circle cx="249.0" cy="228.3" r="3.0"/>
<circle cx="331.9" cy="160.1" r="3.0"/>
<circle cx="251.6" cy="248.6" r="3.0"/>
<circle cx="211.3" cy="284.2" r="3.0"/>
<circle cx="301.8" cy="196.2" r="3.0"/>
<circle cx="257.2" cy="236.7" r="3.0"/>
<circle cx="227.4" cy="239.8" r="3.0"/>
<circle cx="304.7" cy="180.3" r="3.0"/>
<circle cx="269.7" cy="233.5" r="3.0"/>
<circle cx="319.9" cy="173.6" r="3.0"/>
<circle cx="358.2" cy="148.8" r="3.0"/>
<circle cx="396.6" cy="117.6" r="3.0"/>
<circle cx="382.6" cy="99.1" r="3.0"/>
<circle cx="202.1" cy="283.8" r="3.0"/>
<circle cx="291.7" cy="208.3" r="3.0"/>
<circle cx="212.7" cy="270.3" r="3.0"/>
<circle cx="216.9" cy="278.9" r="3.0"/>
<circle cx="333.2" cy="160.8" r="3.0"/>
<circle cx="223.7" cy="261.6" r="3.0"/>
<circle cx="363.9" cy="137.5" r="3.0"/>
<circle cx="306.8" cy="194.6" r="3.0"/>
<circle cx="361.7" cy="134.1" r="3.0"/>
<circle cx="233.7" cy="257.2" r="3.0"/>
<circle cx="283.7" cy="207.8" r="3.0"/>
<circle cx="323.4" cy="169.4" r="3.0"/>
<circle cx="366.2" cy="125.6" r="3.0"/>
<circle cx="319.1" cy="170.8" r="3.0"/>
<circle cx="372.0" cy="127.8" r="3.0"/>
<circle cx="375.7" cy="111.1" r="3.0"/>
<circle cx="371.4" cy="117.1" r="3.0"/>
<circle cx="284.8" cy="204.4" r="3.0"/>
<circle cx="354.2" cy="145.4" r="3.0"/>
<circle cx="275.9" cy="221.4" r="3.0"/>
<circle cx="253.3" cy="226.3" r="3.0"/>
<circle cx="412.7" cy="89.9" r="3.0"/>
<circle cx="407.5" cy="101.4" r="3.0"/>
<circle cx="234.0" cy="256.2" r="3.0"/>
<circle cx="333.2" cy="157.6" r="3.0"/>
<circle cx="383.9" cy="132.0" r="3.0"/>
<circle cx="206.2" cy="266.4" r="3.0"/>
<circle cx="319.5" cy="172.3" r="3.0"/>
<circle cx="218.4" cy="268.6" r="3.0"/>
<circle cx="233.3" cy="245.8" r="3.0"/>
<circle cx="272.0" cy="224.0" r="3.0"/>
<circle cx="342.4" cy="167.5" r="3.0"/>
<circle cx="312.1" cy="186.6" r="3.0"/>
<circle cx="337.5" cy="158.8" r="3.0"/>
<circle cx="349.5" cy="154.0" r="3.0"/>
<circle cx="305.0" cy="183.7" r="3.0"/>
<circle cx="296.1" cy="199.7" r="3.0"/>
<circle cx="266.5" cy="229.6" r="3.0"/>
<circle cx="256.8" cy="241.2" r="3.0"/>
<circle cx="357.5" cy="124.0" r="3.0"/>
<circle cx="340.3" cy="148.6" r="3.0"/>
<circle cx="358.9" cy="143.4" r="3.0"/>
<circle cx="318.9" cy="181.4" r="3.0"/>
<circle cx="381.2" cy="120.3" r="3.0"/>
<circle cx="376.2" cy="119.8" r="3.0"/>
<circle cx="214.2" cy="269.6" r="3.0"/>
<circle cx="291.6" cy="189.4" r="3.0"/>
<circle cx="219.5" cy="256.1" r="3.0"/>
<circle cx="402.1" cy="105.6" r="3.0"/>
<circle cx="288.6" cy="195.2" r="3.0"/>
<circle cx="241.4" cy="235.8" r="3.0"/>
<circle cx="377.3" cy="140.0" r="3.0"/>
<circle cx="212.1" cy="270.2" r="3.0"/>
<circle cx="226.9" cy="251.0" r="3.0"/>
<circle cx="252.3" cy="235.4" r="3.0"/>
<circle cx="285.4" cy="235.9" r="3.0"/>
<circle cx="251.8" cy="234.7" r="3.0"/>
<circle cx="319.8" cy="184.2" r="3.0"/>
<circle cx="333.9" cy="178.6" r="3.0"/>
<circle cx="261.0" cy="235.7" r="3.0"/>
<circle cx="327.4" cy="160.4" r="3.0"/>
<circle cx="346.7" cy="148.2" r="3.0"/>
<circle cx="347.7" cy="160.3" r="3.0"/>
<circle cx="334.5" cy="175.9" r="3.0"/>
<circle cx="357.3" cy="117.8" r="3.0"/>
<circle cx="276.2" cy="224.7" r="3.0"/>
<circle cx="408.8" cy="94.9" r="3.0"/>
<circle cx="257.9" cy="234.0" r="3.0"/>
<circle cx="249.6" cy="247.2" r="3.0"/>
<circle cx="200.9" cy="280.0" r="3.0"/>
<circle cx="217.5" cy="272.3" r="3.0"/>
<circle cx="358.8" cy="161.7" r="3.0"/>
<circle cx="354.6" cy="160.2" r="3.0"/>
<circle cx="372.2" cy="116.8" r="3.0"/>
<circle cx="396.6" cy="111.3" r="3.0"/>
<circle cx="334.4" cy="145.6" r="3.0"/>
<circle cx="258.4" cy="217.1" r="3.0"/>
<circle cx="377.5" cy="129.7" r="3.0"/>
<circle cx="402.8" cy="94.5" r="3.0"/>
<circle cx="280.0" cy="204.9" r="3.0"/>
<circle cx="208.9" cy="277.7" r="3.0"/>
<circle cx="283.4" cy="213.5" r="3.0"/>
<circle cx="247.7" cy="227.5" r="3.0"/>
<circle cx="399.6" cy="97.7" r="3.0"/>
<circle cx="371.4" cy="127.8" r="3.0"/>
<circle cx="208.3" cy="265.0" r="3.0"/>
<circle cx="327.1" cy="174.9" r="3.0"/>
<circle cx="409.7" cy="101.5" r="3.0"/>
<circle cx="308.2" cy="197.0" r="3.0"/>
<circle cx="116.8" cy="367.0" r="3.0"/>
<circle cx="140.4" cy="334.4" r="3.0"/>
<circle cx="187.5" cy="274.8" r="3.0"/>
<circle cx="196.5" cy="275.1" r="3.0"/>
<circle cx="203.1" cy="276.5" r="3.0"/>
<circle cx="207.5" cy="274.4" r="3.0"/>
<circle cx="193.6" cy="280.2" r="3.0"/>
<circle cx="221.3" cy="283.1" r="3.0"/>
<circle cx="183.5" cy="288.9" r="3.0"/>
<circle cx="189.3" cy="288.2" r="3.0"/>
<circle cx="193.6" cy="286.0" r="3.0"/>
<circle cx="198.7" cy="284.5" r="3.0"/>
<circle cx="201.6" cy="288.9" r="3.0"/>
<circle cx="207.5" cy="290.4" r="3.0"/>
<circle cx="214.0" cy="288.9" r="3.0"/>
<circle cx="182.7" cy="294.7" r="3.0"/>
<circle cx="189.3" cy="293.3" r="3.0"/>
<circle cx="196.5" cy="296.9" r="3.0"/>
<circle cx="189.0" cy="300.5" r="3.0"/>
<circle cx="204.5" cy="300.5" r="3.0"/>
<circle cx="183.5" cy="302.0" r="3.0"/>
<circle cx="183.5" cy="304.9" r="3.0"/>
<circle cx="180.5" cy="306.4" r="3.0"/>
<circle cx="192.2" cy="307.5" r="3.0"/>
<circle cx="196.5" cy="306.4" r="3.0"/>
<circle cx="195.8" cy="311.5" r="3.0"/>
<circle cx="169.6" cy="310.4" r="3.0"/>
<circle cx="177.6" cy="309.3" r="3.0"/>
<circle cx="177.6" cy="312.9" r="3.0"/>
<circle cx="183.5" cy="312.9" r="3.0"/>
<circle cx="169.6" cy="316.5" r="3.0"/>
<circle cx="168.2" cy="320.9" r="3.0"/>
<circle cx="162.4" cy="320.6" r="3.0"/>
<circle cx="163.4" cy="326.7" r="3.0"/>
<circle cx="185.6" cy="322.7" r="3.0"/>
<circle cx="179.0" cy="304.9" r="3.0"/>
<circle cx="195.5" cy="264.5" r="3.0"/>
<circle cx="186.4" cy="274.7" r="3.0"/>
<circle cx="473.7" cy="34.3" r="3.0"/>
<circle cx="456.8" cy="42.0" r="3.0"/>
<circle cx="469.5" cy="43.4" r="3.0"/>
<circle cx="459.1" cy="45.3" r="3.0"/>
<circle cx="459.6" cy="47.3" r="3.0"/>
<circle cx="450.9" cy="51.8" r="3.0"/>
<circle cx="437.1" cy="55.2" r="3.0"/>
<circle cx="419.9" cy="62.3" r="3.0"/>
<circle cx="460.8" cy="60.3" r="3.0"/>
<circle cx="435.4" cy="64.3" r="3.0"/>
<circle cx="436.0" cy="71.6" r="3.0"/>
<circle cx="436.5" cy="80.4" r="3.0"/>
<circle cx="408.2" cy="80.4" r="3.0"/>
<circle cx="420.3" cy="84.0" r="3.0"/>
<circle cx="435.5" cy="88.5" r="3.0"/>
<circle cx="404.4" cy="88.5" r="3.0"/>
<circle cx="396.1" cy="91.0" r="3.0"/>
<circle cx="413.9" cy="89.1" r="3.0"/>
<circle cx="417.1" cy="89.1" r="3.0"/>
<circle cx="389.1" cy="94.8" r="3.0"/>
<circle cx="389.7" cy="98.6" r="3.0"/>
<circle cx="395.5" cy="96.7" r="3.0"/>
<circle cx="400.5" cy="94.8" r="3.0"/>
<circle cx="404.4" cy="96.7" r="3.0"/>
<circle cx="410.1" cy="96.7" r="3.0"/>
<circle cx="416.5" cy="94.8" r="3.0"/>
<circle cx="420.3" cy="100.5" r="3.0"/>
<circle cx="419.0" cy="103.7" r="3.0"/>
<circle cx="413.9" cy="102.5" r="3.0"/>
<circle cx="408.2" cy="104.4" r="3.0"/>
<circle cx="403.1" cy="103.7" r="3.0"/>
<circle cx="398.6" cy="101.8" r="3.0"/>
<circle cx="405.0" cy="112.6" r="3.0"/>
<circle cx="396.1" cy="125.4" r="3.0"/>
<circle cx="382.7" cy="104.4" r="3.0"/>
<circle cx="382.9" cy="104.2" r="3.0"/>
<circle cx="368.7" cy="111.8" r="3.0"/>
<circle cx="404.7" cy="112.4" r="3.0"/>
<circle cx="419.3" cy="100.7" r="3.0"/>
</g>
<g stroke="#000" stroke-width="1.6" fill="none" stroke-linejoin="round">
<rect x="92" y="18.5" width="434" height="377.2"/>
<line x1="143.5" y1="395.7" x2="143.5" y2="405.5"/>
<line x1="242.4" y1="395.7" x2="242.4" y2="405.5"/>
<line x1="341.3" y1="395.7" x2="341.3" y2="405.5"/>
<line x1="440.2" y1="395.7" x2="440.2" y2="405.5"/>
<line x1="82.3" y1="76.5" x2="92" y2="76.5"/>
<line x1="82.3" y1="165.7" x2="92" y2="165.7"/>
<line x1="82.3" y1="254.9" x2="92" y2="254.9"/>
<line x1="82.3" y1="344.4" x2="92" y2="344.4"/>
</g>
<g class="t" text-anchor="middle">
<text x="144" y="431">-2</text>
<text x="243" y="431">0</text>
<text x="342" y="431">2</text>
<text x="440.8" y="431">4</text>
<text transform="translate(69.5,76.5) rotate(-90)">20</text>
<text transform="translate(69.5,165.7) rotate(-90)">10</text>
<text transform="translate(69.5,254.7) rotate(-90)">0</text>
<text transform="translate(69.5,344) rotate(-90)">-10</text>
<text x="309.8" y="470" letter-spacing="-0.4">X.Interval</text>
<text transform="translate(32,207) rotate(-90)">Y.Interval</text>
</g>
<rect x="92.5" y="19.1" width="209" height="57.5" fill="#fff" stroke="#000" stroke-width="1.6"/>
<rect x="106.6" y="33.3" width="12.4" height="10.2" fill="#ff0000" stroke="#000" stroke-width="1.2"/>
<rect x="106.6" y="52.4" width="12.4" height="10.2" fill="#bebebe" stroke="#000" stroke-width="1.2"/>
<g class="t">
<text x="162.5" y="46.3" letter-spacing="-0.15">Midpoint data</text>
<text x="162.5" y="65.8" letter-spacing="-0.45">Interval-valued data</text>
</g>
<text class="cap" x="212" y="531">(<tspan font-weight="bold">c</tspan>) <tspan font-style="italic">Scenario</tspan> 3</text>
</svg>
</body></html>
